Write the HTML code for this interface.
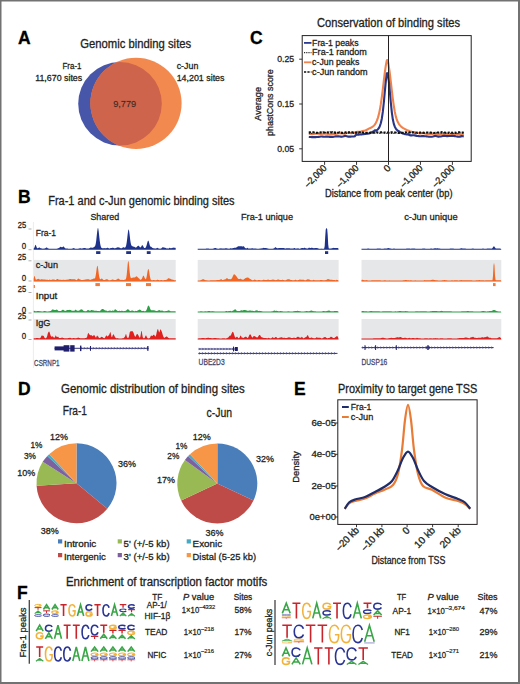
<!DOCTYPE html>
<html><head><meta charset="utf-8"><style>
html,body{margin:0;padding:0;background:#fff;}
svg{display:block;font-family:"Liberation Sans",sans-serif;}
</style></head><body>
<svg width="520" height="684" viewBox="0 0 520 684">
<rect width="520" height="684" fill="#fff"/>
<rect x="0.75" y="0.75" width="518.5" height="682.5" fill="none" stroke="#727272" stroke-width="1.5"/>
<rect x="518" y="0" width="2" height="684" fill="#727272"/>
<rect x="0" y="682" width="520" height="2" fill="#727272"/>
<text x="18" y="44.0" font-size="17.5" font-weight="bold" fill="#000" stroke="#000" stroke-width="0.30">A</text>
<text x="80.2" y="48.3" font-size="11.87" textLength="111" lengthAdjust="spacingAndGlyphs" fill="#231f20" stroke="#231f20" stroke-width="0.30">Genomic binding sites</text>
<text x="81.5" y="69.4" font-size="9.45" text-anchor="end" textLength="19" lengthAdjust="spacingAndGlyphs" fill="#231f20" stroke="#231f20" stroke-width="0.30">Fra-1</text>
<text x="82.2" y="81.2" font-size="9.45" text-anchor="end" textLength="47" lengthAdjust="spacingAndGlyphs" fill="#231f20" stroke="#231f20" stroke-width="0.30">11,670 sites</text>
<text x="176.7" y="69.4" font-size="9.45" textLength="21.6" lengthAdjust="spacingAndGlyphs" fill="#231f20" stroke="#231f20" stroke-width="0.30">c-Jun</text>
<text x="176.7" y="81.2" font-size="9.45" textLength="47.8" lengthAdjust="spacingAndGlyphs" fill="#231f20" stroke="#231f20" stroke-width="0.30">14,201 sites</text>
<defs><clipPath id="cpO"><circle cx="136" cy="103.3" r="45.6"/></clipPath></defs>
<circle cx="120" cy="103.8" r="41.8" fill="#4856aa"/>
<circle cx="136" cy="103.3" r="45.6" fill="#f28a50"/>
<circle cx="120" cy="103.8" r="41.8" fill="#cd644b" clip-path="url(#cpO)"/>
<text x="124.7" y="107" font-size="9.97" text-anchor="middle" textLength="23" lengthAdjust="spacingAndGlyphs" fill="#3b2a25" stroke="#3b2a25" stroke-width="0.30" stroke-opacity="0.4">9,779</text>
<text x="250" y="43.9" font-size="17.5" font-weight="bold" fill="#000" stroke="#000" stroke-width="0.30">C</text>
<text x="317" y="26.8" font-size="11.87" textLength="143" lengthAdjust="spacingAndGlyphs" fill="#231f20" stroke="#231f20" stroke-width="0.30">Conservation of binding sites</text>
<g transform="translate(261.2,103.9) rotate(-90)">
<text x="0" y="0" font-size="9.45" text-anchor="middle" textLength="33.8" lengthAdjust="spacingAndGlyphs" fill="#231f20" stroke="#231f20" stroke-width="0.30">Average</text>
</g>
<g transform="translate(272.6,102.6) rotate(-90)">
<text x="0" y="0" font-size="9.45" text-anchor="middle" textLength="66.7" lengthAdjust="spacingAndGlyphs" fill="#231f20" stroke="#231f20" stroke-width="0.30">phastCons score</text>
</g>
<line x1="299.2" y1="59.2" x2="302.2" y2="59.2" stroke="#231f20" stroke-width="0.9"/>
<text x="294.2" y="62.2" font-size="9.03" text-anchor="end" textLength="16.9" lengthAdjust="spacingAndGlyphs" fill="#231f20" stroke="#231f20" stroke-width="0.30">0.25</text>
<line x1="299.2" y1="104.00000000000001" x2="302.2" y2="104.00000000000001" stroke="#231f20" stroke-width="0.9"/>
<text x="294.2" y="107.00000000000001" font-size="9.03" text-anchor="end" textLength="16.9" lengthAdjust="spacingAndGlyphs" fill="#231f20" stroke="#231f20" stroke-width="0.30">0.15</text>
<line x1="299.2" y1="148.8" x2="302.2" y2="148.8" stroke="#231f20" stroke-width="0.9"/>
<text x="294.2" y="151.8" font-size="9.03" text-anchor="end" textLength="16.9" lengthAdjust="spacingAndGlyphs" fill="#231f20" stroke="#231f20" stroke-width="0.30">0.05</text>
<line x1="324.6" y1="161.4" x2="324.6" y2="164.9" stroke="#231f20" stroke-width="0.9"/>
<g transform="translate(327.40000000000003,168.6) rotate(-45)">
<text x="0" y="0" font-size="9.66" text-anchor="end" textLength="27.5" lengthAdjust="spacingAndGlyphs" fill="#231f20" stroke="#231f20" stroke-width="0.30">–2,000</text>
</g>
<line x1="356.55" y1="161.4" x2="356.55" y2="164.9" stroke="#231f20" stroke-width="0.9"/>
<g transform="translate(359.35,168.6) rotate(-45)">
<text x="0" y="0" font-size="9.66" text-anchor="end" textLength="27.5" lengthAdjust="spacingAndGlyphs" fill="#231f20" stroke="#231f20" stroke-width="0.30">–1,000</text>
</g>
<line x1="388.5" y1="161.4" x2="388.5" y2="164.9" stroke="#231f20" stroke-width="0.9"/>
<g transform="translate(391.3,168.6) rotate(-45)">
<text x="0" y="0" font-size="9.66" text-anchor="end" textLength="5.5" lengthAdjust="spacingAndGlyphs" fill="#231f20" stroke="#231f20" stroke-width="0.30">0</text>
</g>
<line x1="420.45" y1="161.4" x2="420.45" y2="164.9" stroke="#231f20" stroke-width="0.9"/>
<g transform="translate(423.25,168.6) rotate(-45)">
<text x="0" y="0" font-size="9.66" text-anchor="end" textLength="27.5" lengthAdjust="spacingAndGlyphs" fill="#231f20" stroke="#231f20" stroke-width="0.30">–1,000</text>
</g>
<line x1="452.4" y1="161.4" x2="452.4" y2="164.9" stroke="#231f20" stroke-width="0.9"/>
<g transform="translate(455.2,168.6) rotate(-45)">
<text x="0" y="0" font-size="9.66" text-anchor="end" textLength="27.5" lengthAdjust="spacingAndGlyphs" fill="#231f20" stroke="#231f20" stroke-width="0.30">–2,000</text>
</g>
<text x="325" y="197" font-size="10.08" textLength="127.5" lengthAdjust="spacingAndGlyphs" fill="#231f20" stroke="#231f20" stroke-width="0.30">Distance from peak center (bp)</text>
<defs><clipPath id="cpC"><rect x="302.2" y="35.6" width="169.0" height="125.80000000000001"/></clipPath></defs>
<g clip-path="url(#cpC)">
<path d="M308.8,133.75 L309.8,133.87 L310.8,134.02 L311.8,134.17 L312.8,134.08 L313.8,133.92 L314.8,133.77 L315.8,133.73 L316.8,133.72 L317.8,133.70 L318.8,133.80 L319.8,133.93 L320.8,134.06 L321.8,133.94 L322.8,133.76 L323.8,133.58 L324.8,133.57 L325.8,133.60 L326.8,133.63 L327.8,133.86 L328.8,134.13 L329.8,134.40 L330.8,134.30 L331.8,134.12 L332.8,133.93 L333.8,133.89 L334.8,133.89 L335.8,133.88 L336.8,133.69 L337.8,133.46 L338.8,133.22 L339.8,133.28 L340.8,133.40 L341.8,133.53 L342.8,133.57 L343.8,133.59 L344.8,133.61 L345.8,133.39 L346.8,133.10 L347.8,132.81 L348.8,132.88 L349.8,133.04 L350.8,133.19 L351.8,133.14 L352.8,133.04 L353.8,132.93 L354.8,132.62 L355.8,132.24 L356.8,131.86 L357.8,131.83 L358.8,131.87 L359.8,131.89 L360.8,131.66 L361.8,131.35 L362.8,131.02 L363.8,130.78 L364.8,130.54 L365.8,130.27 L366.8,129.79 L367.8,129.23 L368.8,128.62 L369.8,128.19 L370.8,127.75 L371.8,127.24 L372.8,126.54 L373.8,125.68 L374.8,124.62 L375.8,123.01 L376.8,120.89 L377.8,118.10 L378.8,114.63 L379.8,110.07 L380.8,104.20 L381.8,97.23 L382.8,89.28 L383.8,80.87 L384.8,72.65 L385.8,65.56 L386.8,60.36 L387.8,60.14 L388.8,66.35 L389.8,73.26 L390.8,81.62 L391.8,90.36 L392.8,98.62 L393.8,105.84 L394.8,111.76 L395.8,116.38 L396.8,119.71 L397.8,122.09 L398.8,123.80 L399.8,125.15 L400.8,126.22 L401.8,127.09 L402.8,127.80 L403.8,128.41 L404.8,128.95 L405.8,129.46 L406.8,129.94 L407.8,130.37 L408.8,130.81 L409.8,131.24 L410.8,131.63 L411.8,131.82 L412.8,131.95 L413.8,132.06 L414.8,132.26 L415.8,132.48 L416.8,132.67 L417.8,132.95 L418.8,133.25 L419.8,133.53 L420.8,133.43 L421.8,133.24 L422.8,133.03 L423.8,133.22 L424.8,133.52 L425.8,133.80 L426.8,133.96 L427.8,134.08 L428.8,134.19 L429.8,134.12 L430.8,133.99 L431.8,133.85 L432.8,133.83 L433.8,133.82 L434.8,133.81 L435.8,134.02 L436.8,134.27 L437.8,134.53 L438.8,134.41 L439.8,134.20 L440.8,133.99 L441.8,133.94 L442.8,133.93 L443.8,133.92 L444.8,134.01 L445.8,134.12 L446.8,134.22 L447.8,134.34 L448.8,134.45 L449.8,134.56 L450.8,134.39 L451.8,134.16 L452.8,133.93 L453.8,133.95 L454.8,134.05 L455.8,134.14 L456.8,134.16 L457.8,134.17 L458.8,134.18 L459.8,134.34 L460.8,134.54 L461.8,134.74 L462.8,134.66 L463.8,134.50" fill="none" stroke="#f0834d" stroke-width="2.1" stroke-linejoin="round"/>
<path d="M308.8,136.94 L309.8,137.02 L310.8,137.07 L311.8,137.13 L312.8,137.13 L313.8,137.13 L314.8,137.12 L315.8,137.08 L316.8,137.03 L317.8,136.99 L318.8,136.84 L319.8,136.67 L320.8,136.50 L321.8,136.55 L322.8,136.65 L323.8,136.75 L324.8,136.71 L325.8,136.62 L326.8,136.53 L327.8,136.61 L328.8,136.74 L329.8,136.86 L330.8,136.88 L331.8,136.88 L332.8,136.88 L333.8,136.74 L334.8,136.57 L335.8,136.40 L336.8,136.36 L337.8,136.35 L338.8,136.33 L339.8,136.48 L340.8,136.65 L341.8,136.83 L342.8,136.59 L343.8,136.25 L344.8,135.91 L345.8,136.06 L346.8,136.32 L347.8,136.59 L348.8,136.63 L349.8,136.61 L350.8,136.60 L351.8,136.57 L352.8,136.54 L353.8,136.50 L354.8,136.26 L355.8,134.97 L356.8,134.67 L357.8,134.60 L358.8,134.58 L359.8,134.56 L360.8,134.48 L361.8,134.38 L362.8,134.27 L363.8,134.15 L364.8,134.02 L365.8,133.87 L366.8,133.79 L367.8,133.70 L368.8,133.58 L369.8,133.23 L370.8,132.78 L371.8,132.29 L372.8,131.70 L373.8,131.05 L374.8,130.31 L375.8,130.79 L376.8,130.23 L377.8,129.49 L378.8,128.16 L379.8,126.20 L380.8,123.22 L381.8,118.73 L382.8,111.96 L383.8,102.74 L384.8,91.88 L385.8,81.30 L386.8,73.37 L387.8,73.18 L388.8,80.93 L389.8,91.33 L390.8,102.48 L391.8,112.12 L392.8,119.29 L393.8,123.88 L394.8,126.72 L395.8,128.54 L396.8,129.78 L397.8,130.72 L398.8,131.23 L399.8,131.91 L400.8,132.50 L401.8,133.02 L402.8,133.45 L403.8,133.80 L404.8,134.11 L405.8,134.30 L406.8,134.44 L407.8,134.55 L408.8,134.83 L409.8,135.12 L410.8,135.40 L411.8,135.39 L412.8,135.30 L413.8,135.19 L414.8,135.38 L415.8,135.63 L416.8,135.88 L417.8,136.01 L418.8,136.11 L419.8,136.21 L420.8,136.19 L421.8,136.14 L422.8,136.08 L423.8,136.13 L424.8,136.20 L425.8,136.26 L426.8,136.41 L427.8,136.58 L428.8,136.75 L429.8,136.77 L430.8,136.75 L431.8,136.73 L432.8,136.49 L433.8,136.19 L434.8,135.89 L435.8,136.05 L436.8,136.31 L437.8,136.58 L438.8,136.58 L439.8,136.51 L440.8,136.45 L441.8,136.25 L442.8,136.03 L443.8,135.80 L444.8,135.85 L445.8,135.98 L446.8,136.10 L447.8,136.09 L448.8,136.04 L449.8,135.99 L450.8,135.93 L451.8,135.87 L452.8,135.80 L453.8,135.94 L454.8,136.12 L455.8,136.31 L456.8,136.47 L457.8,136.63 L458.8,136.78 L459.8,136.62 L460.8,136.38 L461.8,136.14 L462.8,136.26 L463.8,136.48" fill="none" stroke="#2b3585" stroke-width="2.1" stroke-linejoin="round"/>
<path d="M308.8,132.95 L309.8,133.23 L310.8,133.31 L311.8,133.33 L312.8,133.04 L313.8,132.67 L314.8,132.92 L315.8,133.33 L316.8,133.26 L317.8,133.07 L318.8,132.98 L319.8,132.91 L320.8,132.00 L321.8,131.87 L322.8,131.95 L323.8,132.08 L324.8,132.32 L325.8,132.58 L326.8,132.38 L327.8,132.07 L328.8,131.95 L329.8,131.88 L330.8,131.87 L331.8,131.88 L332.8,131.87 L333.8,131.87 L334.8,131.95 L335.8,132.05 L336.8,132.27 L337.8,132.52 L338.8,132.27 L339.8,131.89 L340.8,132.66 L341.8,132.71 L342.8,132.99 L343.8,133.33 L344.8,133.42 L345.8,133.44 L346.8,133.44 L347.8,133.43 L348.8,133.17 L349.8,132.84 L350.8,132.81 L351.8,132.86 L352.8,133.08 L353.8,133.35 L354.8,133.24 L355.8,133.03 L356.8,133.07 L357.8,133.16 L358.8,133.04 L359.8,132.87 L360.8,132.73 L361.8,132.60 L362.8,132.69 L363.8,132.83 L364.8,133.01 L365.8,133.19 L366.8,133.24 L367.8,133.25 L368.8,133.18 L369.8,133.08 L370.8,133.02 L371.8,132.98 L372.8,132.99 L373.8,133.03 L374.8,133.00 L375.8,132.96 L376.8,132.98 L377.8,133.02 L378.8,133.14 L379.8,133.27 L380.8,133.07 L381.8,132.79 L382.8,132.87 L383.8,133.05 L384.8,133.21 L385.8,133.36 L386.8,133.36 L387.8,133.32 L388.8,133.07 L389.8,132.77 L390.8,132.99 L391.8,133.35 L392.8,133.37 L393.8,133.32 L394.8,133.06 L395.8,132.76 L396.8,132.74 L397.8,132.78 L398.8,132.77 L399.8,132.74 L400.8,132.68 L401.8,132.61 L402.8,132.93 L403.8,133.35 L404.8,133.23 L405.8,132.97 L406.8,133.09 L407.8,133.29 L408.8,133.06 L409.8,132.72 L410.8,132.62 L411.8,132.57 L412.8,132.87 L413.8,133.26 L414.8,133.31 L415.8,133.27 L416.8,133.34 L417.8,133.42 L418.8,133.33 L419.8,133.19 L420.8,133.11 L421.8,133.04 L422.8,133.11 L423.8,133.22 L424.8,133.00 L425.8,132.69 L426.8,132.79 L427.8,133.00 L428.8,133.00 L429.8,132.96 L430.8,132.84 L431.8,132.71 L432.8,132.85 L433.8,133.05 L434.8,132.99 L435.8,132.87 L436.8,132.91 L437.8,132.99 L438.8,132.96 L439.8,132.90 L440.8,132.87 L441.8,132.84 L442.8,132.85 L443.8,132.87 L444.8,132.96 L445.8,133.07 L446.8,133.23 L447.8,133.40 L448.8,133.42 L449.8,133.40 L450.8,133.37 L451.8,133.33 L452.8,133.32 L453.8,133.30 L454.8,133.10 L455.8,132.86 L456.8,133.06 L457.8,133.37 L458.8,133.17 L459.8,132.86 L460.8,132.74 L461.8,132.67 L462.8,132.80 L463.8,132.97" fill="none" stroke="#2a2a2a" stroke-width="1.2" stroke-dasharray="1.2,1.2"/>
<path d="M308.8,132.54 L309.8,132.37 L310.8,132.23 L311.8,132.10 L312.8,132.19 L313.8,132.33 L314.8,132.51 L315.8,132.69 L316.8,132.74 L317.8,132.75 L318.8,132.68 L319.8,132.58 L320.8,132.52 L321.8,132.48 L322.8,132.49 L323.8,132.53 L324.8,132.50 L325.8,132.46 L326.8,132.48 L327.8,132.52 L328.8,132.64 L329.8,132.77 L330.8,132.57 L331.8,132.29 L332.8,132.37 L333.8,132.55 L334.8,132.71 L335.8,132.86 L336.8,132.86 L337.8,132.82 L338.8,132.57 L339.8,132.27 L340.8,132.49 L341.8,132.85 L342.8,132.87 L343.8,132.82 L344.8,132.56 L345.8,132.26 L346.8,132.24 L347.8,132.28 L348.8,132.27 L349.8,132.24 L350.8,132.18 L351.8,132.11 L352.8,132.43 L353.8,132.85 L354.8,132.73 L355.8,132.47 L356.8,132.59 L357.8,132.79 L358.8,132.56 L359.8,132.22 L360.8,132.12 L361.8,132.07 L362.8,132.37 L363.8,132.76 L364.8,132.81 L365.8,132.77 L366.8,132.84 L367.8,132.92 L368.8,132.83 L369.8,132.69 L370.8,132.61 L371.8,132.54 L372.8,132.61 L373.8,132.72 L374.8,132.50 L375.8,132.19 L376.8,132.29 L377.8,132.50 L378.8,132.50 L379.8,132.46 L380.8,132.34 L381.8,132.21 L382.8,132.35 L383.8,132.55 L384.8,132.49 L385.8,132.37 L386.8,132.41 L387.8,132.49 L388.8,132.46 L389.8,132.40 L390.8,132.37 L391.8,132.34 L392.8,132.35 L393.8,132.37 L394.8,132.46 L395.8,132.57 L396.8,132.73 L397.8,132.90 L398.8,132.92 L399.8,132.90 L400.8,132.87 L401.8,132.83 L402.8,132.82 L403.8,132.80 L404.8,132.60 L405.8,132.36 L406.8,132.56 L407.8,132.87 L408.8,132.67 L409.8,132.36 L410.8,132.24 L411.8,132.17 L412.8,132.30 L413.8,132.47 L414.8,132.58 L415.8,132.69 L416.8,132.57 L417.8,132.39 L418.8,132.47 L419.8,132.60 L420.8,132.50 L421.8,132.34 L422.8,132.55 L423.8,132.86 L424.8,132.74 L425.8,132.50 L426.8,132.47 L427.8,132.48 L428.8,132.50 L429.8,132.52 L430.8,132.65 L431.8,132.81 L432.8,132.88 L433.8,132.93 L434.8,132.77 L435.8,132.57 L436.8,132.49 L437.8,132.46 L438.8,132.51 L439.8,132.59 L440.8,132.41 L441.8,132.16 L442.8,132.24 L443.8,132.40 L444.8,132.58 L445.8,132.77 L446.8,132.79 L447.8,132.76 L448.8,132.49 L449.8,132.17 L450.8,132.39 L451.8,132.75 L452.8,132.65 L453.8,132.44 L454.8,132.61 L455.8,132.88 L456.8,132.71 L457.8,132.44 L458.8,132.33 L459.8,132.26 L460.8,132.36 L461.8,132.51 L462.8,132.66 L463.8,132.82" fill="none" stroke="#111" stroke-width="2.1" stroke-dasharray="2.2,1.4"/>
</g>
<rect x="302.2" y="35.6" width="169.0" height="125.80000000000001" fill="none" stroke="#231f20" stroke-width="1"/>
<line x1="388.5" y1="35.6" x2="388.5" y2="161.4" stroke="#231f20" stroke-width="1"/>
<line x1="304" y1="42.9" x2="311.5" y2="42.9" stroke="#2b3990" stroke-width="1.8"/>
<text x="312.1" y="45.5" font-size="9.66" textLength="46.5" lengthAdjust="spacingAndGlyphs" fill="#231f20" stroke="#231f20" stroke-width="0.30">Fra-1 peaks</text>
<line x1="304" y1="52.6" x2="311.5" y2="52.6" stroke="#2a2a2a" stroke-width="1.2" stroke-dasharray="1.2,1"/>
<text x="312.1" y="55.2" font-size="9.66" textLength="54.8" lengthAdjust="spacingAndGlyphs" fill="#231f20" stroke="#231f20" stroke-width="0.30">Fra-1 random</text>
<line x1="304" y1="62.300000000000004" x2="311.5" y2="62.300000000000004" stroke="#f0834d" stroke-width="1.8"/>
<text x="312.1" y="64.9" font-size="9.66" textLength="47.2" lengthAdjust="spacingAndGlyphs" fill="#231f20" stroke="#231f20" stroke-width="0.30">c-Jun peaks</text>
<line x1="304" y1="72.0" x2="311.5" y2="72.0" stroke="#111" stroke-width="1.6" stroke-dasharray="2.2,1.2"/>
<text x="312.1" y="74.6" font-size="9.66" textLength="55.5" lengthAdjust="spacingAndGlyphs" fill="#231f20" stroke="#231f20" stroke-width="0.30">c-Jun random</text>
<text x="18" y="203.1" font-size="17.5" font-weight="bold" fill="#000" stroke="#000" stroke-width="0.30">B</text>
<text x="48.2" y="204.6" font-size="11.87" textLength="186.4" lengthAdjust="spacingAndGlyphs" fill="#231f20" stroke="#231f20" stroke-width="0.30">Fra-1 and c-Jun genomic binding sites</text>
<text x="104.8" y="219.6" font-size="9.97" text-anchor="middle" textLength="28.8" lengthAdjust="spacingAndGlyphs" fill="#231f20" stroke="#231f20" stroke-width="0.30">Shared</text>
<text x="267" y="219.6" font-size="9.97" text-anchor="middle" textLength="52" lengthAdjust="spacingAndGlyphs" fill="#231f20" stroke="#231f20" stroke-width="0.30">Fra-1 unique</text>
<text x="430.9" y="219.6" font-size="9.97" text-anchor="middle" textLength="53.5" lengthAdjust="spacingAndGlyphs" fill="#231f20" stroke="#231f20" stroke-width="0.30">c-Jun unique</text>
<rect x="33.7" y="259.9" width="142.0" height="21.900000000000034" fill="#e6e7e8"/>
<rect x="197.7" y="259.9" width="140.90000000000003" height="21.900000000000034" fill="#e6e7e8"/>
<rect x="361.5" y="259.9" width="139.8" height="21.900000000000034" fill="#e6e7e8"/>
<rect x="33.7" y="319.0" width="142.0" height="20.80000000000001" fill="#e6e7e8"/>
<rect x="197.7" y="319.0" width="140.90000000000003" height="20.80000000000001" fill="#e6e7e8"/>
<rect x="361.5" y="319.0" width="139.8" height="20.80000000000001" fill="#e6e7e8"/>
<text x="26.2" y="228.4" font-size="8.4" text-anchor="end" textLength="8.4" lengthAdjust="spacingAndGlyphs" fill="#231f20" stroke="#231f20" stroke-width="0.28">25</text>
<text x="26.2" y="249.2" font-size="8.4" text-anchor="end" textLength="4.4" lengthAdjust="spacingAndGlyphs" fill="#231f20" stroke="#231f20" stroke-width="0.28">0</text>
<line x1="28.5" y1="229" x2="31.5" y2="229" stroke="#777" stroke-width="0.6"/>
<line x1="28.5" y1="249.7" x2="31.5" y2="249.7" stroke="#777" stroke-width="0.6"/>
<text x="35.7" y="235.9" font-size="9.97" textLength="20.3" lengthAdjust="spacingAndGlyphs" fill="#231f20" stroke="#231f20" stroke-width="0.30">Fra-1</text>
<text x="26.2" y="260.2" font-size="8.4" text-anchor="end" textLength="8.4" lengthAdjust="spacingAndGlyphs" fill="#231f20" stroke="#231f20" stroke-width="0.28">25</text>
<text x="26.2" y="280.5" font-size="8.4" text-anchor="end" textLength="4.4" lengthAdjust="spacingAndGlyphs" fill="#231f20" stroke="#231f20" stroke-width="0.28">0</text>
<line x1="28.5" y1="260.8" x2="31.5" y2="260.8" stroke="#777" stroke-width="0.6"/>
<line x1="28.5" y1="281" x2="31.5" y2="281" stroke="#777" stroke-width="0.6"/>
<text x="35.7" y="268.2" font-size="9.97" textLength="22.3" lengthAdjust="spacingAndGlyphs" fill="#231f20" stroke="#231f20" stroke-width="0.30">c-Jun</text>
<text x="26.2" y="291.9" font-size="8.4" text-anchor="end" textLength="8.4" lengthAdjust="spacingAndGlyphs" fill="#231f20" stroke="#231f20" stroke-width="0.28">25</text>
<text x="26.2" y="312.5" font-size="8.4" text-anchor="end" textLength="4.4" lengthAdjust="spacingAndGlyphs" fill="#231f20" stroke="#231f20" stroke-width="0.28">0</text>
<line x1="28.5" y1="292.5" x2="31.5" y2="292.5" stroke="#777" stroke-width="0.6"/>
<line x1="28.5" y1="313" x2="31.5" y2="313" stroke="#777" stroke-width="0.6"/>
<text x="35.7" y="299.4" font-size="9.97" textLength="21.6" lengthAdjust="spacingAndGlyphs" fill="#231f20" stroke="#231f20" stroke-width="0.30">Input</text>
<text x="26.2" y="319.4" font-size="8.4" text-anchor="end" textLength="8.4" lengthAdjust="spacingAndGlyphs" fill="#231f20" stroke="#231f20" stroke-width="0.28">25</text>
<text x="26.2" y="339.0" font-size="8.4" text-anchor="end" textLength="4.4" lengthAdjust="spacingAndGlyphs" fill="#231f20" stroke="#231f20" stroke-width="0.28">0</text>
<line x1="28.5" y1="320" x2="31.5" y2="320" stroke="#777" stroke-width="0.6"/>
<line x1="28.5" y1="339.5" x2="31.5" y2="339.5" stroke="#777" stroke-width="0.6"/>
<text x="35.7" y="326.4" font-size="9.97" textLength="14.8" lengthAdjust="spacingAndGlyphs" fill="#231f20" stroke="#231f20" stroke-width="0.30">IgG</text>
<line x1="33.4" y1="222" x2="33.4" y2="368" stroke="#f3d6d6" stroke-width="0.6"/>
<path d="M33.7,249.7 L33.7,248.56 L34.2,248.03 L34.7,246.78 L35.2,245.24 L35.7,244.83 L36.2,246.09 L36.7,247.60 L37.2,248.28 L37.7,248.35 L38.2,248.11 L38.7,247.71 L39.2,247.45 L39.7,247.58 L40.2,247.90 L40.7,248.17 L41.2,248.35 L41.7,248.48 L42.2,248.58 L42.7,248.63 L43.2,248.65 L43.7,248.62 L44.2,248.55 L44.7,248.43 L45.2,248.21 L45.7,247.90 L46.2,247.62 L46.7,247.58 L47.2,247.84 L47.7,248.16 L48.2,248.40 L48.7,248.54 L49.2,248.63 L49.7,248.67 L50.2,248.69 L50.7,248.70 L51.2,248.70 L51.7,248.70 L52.2,248.70 L52.7,248.70 L53.2,248.70 L53.7,248.70 L54.2,248.70 L54.7,248.70 L55.2,248.70 L55.7,248.70 L56.2,248.69 L56.7,248.68 L57.2,248.62 L57.7,248.48 L58.2,248.24 L58.7,247.95 L59.2,247.69 L59.7,247.44 L60.2,247.06 L60.7,246.74 L61.2,246.93 L61.7,247.24 L62.2,247.28 L62.7,246.95 L63.2,246.42 L63.7,246.49 L64.2,247.21 L64.7,247.81 L65.2,248.18 L65.7,248.39 L66.2,248.47 L66.7,248.47 L67.2,248.51 L67.7,248.59 L68.2,248.66 L68.7,248.69 L69.2,248.70 L69.7,248.70 L70.2,248.70 L70.7,248.70 L71.2,248.70 L71.7,248.69 L72.2,248.62 L72.7,248.42 L73.2,248.14 L73.7,248.10 L74.2,248.34 L74.7,248.56 L75.2,248.64 L75.7,248.67 L76.2,248.68 L76.7,248.69 L77.2,248.69 L77.7,248.69 L78.2,248.66 L78.7,248.56 L79.2,248.40 L79.7,248.30 L80.2,248.27 L80.7,248.35 L81.2,248.48 L81.7,248.49 L82.2,248.41 L82.7,248.29 L83.2,248.15 L83.7,248.02 L84.2,247.93 L84.7,247.95 L85.2,248.10 L85.7,248.31 L86.2,248.49 L86.7,248.54 L87.2,248.49 L87.7,248.54 L88.2,248.60 L88.7,248.52 L89.2,248.34 L89.7,248.09 L90.2,247.79 L90.7,247.53 L91.2,247.56 L91.7,247.76 L92.2,247.80 L92.7,247.67 L93.2,247.47 L93.7,247.24 L94.2,246.98 L94.7,246.57 L95.2,245.74 L95.7,243.97 L96.2,240.66 L96.7,236.01 L97.2,231.40 L97.7,228.30 L98.2,228.15 L98.7,231.17 L99.2,235.92 L99.7,240.58 L100.2,244.11 L100.7,246.35 L101.2,247.56 L101.7,248.08 L102.2,248.25 L102.7,248.26 L103.2,248.21 L103.7,248.15 L104.2,248.11 L104.7,248.14 L105.2,248.25 L105.7,248.31 L106.2,248.24 L106.7,248.03 L107.2,247.85 L107.7,247.83 L108.2,248.01 L108.7,248.27 L109.2,248.47 L109.7,248.52 L110.2,248.31 L110.7,248.06 L111.2,248.07 L111.7,248.02 L112.2,247.85 L112.7,247.76 L113.2,247.82 L113.7,248.00 L114.2,248.17 L114.7,248.25 L115.2,248.21 L115.7,248.06 L116.2,247.85 L116.7,247.67 L117.2,247.50 L117.7,247.30 L118.2,247.35 L118.7,247.51 L119.2,247.54 L119.7,247.69 L120.2,247.98 L120.7,248.18 L121.2,248.26 L121.7,248.18 L122.2,247.88 L122.7,247.45 L123.2,247.23 L123.7,247.36 L124.2,247.59 L124.7,247.67 L125.2,247.45 L125.7,246.75 L126.2,245.22 L126.7,242.51 L127.2,238.58 L127.7,234.01 L128.2,230.32 L128.7,229.28 L129.2,231.39 L129.7,235.49 L130.2,239.75 L130.7,242.96 L131.2,244.89 L131.7,245.80 L132.2,246.15 L132.7,246.32 L133.2,246.48 L133.7,246.65 L134.2,246.84 L134.7,247.12 L135.2,247.39 L135.7,247.53 L136.2,247.47 L136.7,247.12 L137.2,246.51 L137.7,245.89 L138.2,245.64 L138.7,245.85 L139.2,246.32 L139.7,247.00 L140.2,247.47 L140.7,247.36 L141.2,246.79 L141.7,245.76 L142.2,245.10 L142.7,245.40 L143.2,246.37 L143.7,247.37 L144.2,247.95 L144.7,248.12 L145.2,248.00 L145.7,247.56 L146.2,246.61 L146.7,245.01 L147.2,242.99 L147.7,241.20 L148.2,240.49 L148.7,241.27 L149.2,243.12 L149.7,245.09 L150.2,246.34 L150.7,246.66 L151.2,246.77 L151.7,247.17 L152.2,247.63 L152.7,248.03 L153.2,248.26 L153.7,248.32 L154.2,248.34 L154.7,248.41 L155.2,248.52 L155.7,248.57 L156.2,248.44 L156.7,248.10 L157.2,247.83 L157.7,247.90 L158.2,248.17 L158.7,248.42 L159.2,248.59 L159.7,248.66 L160.2,248.67 L160.7,248.60 L161.2,248.40 L161.7,248.03 L162.2,247.54 L162.7,247.21 L163.2,247.22 L163.7,247.41 L164.2,247.57 L164.7,247.69 L165.2,247.84 L165.7,248.12 L166.2,248.37 L166.7,248.38 L167.2,248.28 L167.7,248.40 L168.2,248.51 L168.7,248.40 L169.2,248.05 L169.7,247.71 L170.2,247.97 L170.7,248.18 L171.2,248.13 L171.7,248.06 L172.2,247.94 L172.7,247.65 L173.2,247.61 L173.7,247.77 L174.2,247.76 L174.7,247.72 L175.2,247.79 L175.7,247.94 L175.7,249.7 Z" fill="#1e328c" stroke="none"/>
<path d="M33.7,281.4 L33.7,278.59 L34.2,276.29 L34.7,275.93 L35.2,278.04 L35.7,279.60 L36.2,279.86 L36.7,279.60 L37.2,279.22 L37.7,278.93 L38.2,278.84 L38.7,278.96 L39.2,279.20 L39.7,279.47 L40.2,279.65 L40.7,279.58 L41.2,279.32 L41.7,279.17 L42.2,279.24 L42.7,279.40 L43.2,279.51 L43.7,279.48 L44.2,279.44 L44.7,279.49 L45.2,279.61 L45.7,279.66 L46.2,279.64 L46.7,279.63 L47.2,279.70 L47.7,279.84 L48.2,279.98 L48.7,280.02 L49.2,279.80 L49.7,279.51 L50.2,279.64 L50.7,279.97 L51.2,279.96 L51.7,279.69 L52.2,279.43 L52.7,279.38 L53.2,279.47 L53.7,279.52 L54.2,279.50 L54.7,279.67 L55.2,279.96 L55.7,280.00 L56.2,279.73 L56.7,279.34 L57.2,279.04 L57.7,279.04 L58.2,279.31 L58.7,279.63 L59.2,279.82 L59.7,279.85 L60.2,279.82 L60.7,279.82 L61.2,279.86 L61.7,279.91 L62.2,279.89 L62.7,279.81 L63.2,279.72 L63.7,279.74 L64.2,279.85 L64.7,279.94 L65.2,279.94 L65.7,279.86 L66.2,279.73 L66.7,279.64 L67.2,279.62 L67.7,279.63 L68.2,279.59 L68.7,279.44 L69.2,279.19 L69.7,278.97 L70.2,278.92 L70.7,279.02 L71.2,279.15 L71.7,279.23 L72.2,279.23 L72.7,279.20 L73.2,279.23 L73.7,279.30 L74.2,279.32 L74.7,279.30 L75.2,279.44 L75.7,279.80 L76.2,280.11 L76.7,280.13 L77.2,279.74 L77.7,279.01 L78.2,278.55 L78.7,278.75 L79.2,279.13 L79.7,279.37 L80.2,279.57 L80.7,279.81 L81.2,280.03 L81.7,280.11 L82.2,280.05 L82.7,280.04 L83.2,279.88 L83.7,279.66 L84.2,279.67 L84.7,279.66 L85.2,279.53 L85.7,279.41 L86.2,279.38 L86.7,279.35 L87.2,279.24 L87.7,279.16 L88.2,279.14 L88.7,279.13 L89.2,279.41 L89.7,279.82 L90.2,279.98 L90.7,279.71 L91.2,279.36 L91.7,279.45 L92.2,279.35 L92.7,279.01 L93.2,278.68 L93.7,278.47 L94.2,278.54 L94.7,278.55 L95.2,277.72 L95.7,275.62 L96.2,272.24 L96.7,268.36 L97.2,265.81 L97.7,266.22 L98.2,269.35 L98.7,273.42 L99.2,276.70 L99.7,278.57 L100.2,279.23 L100.7,279.14 L101.2,278.73 L101.7,278.51 L102.2,278.75 L102.7,279.24 L103.2,279.65 L103.7,279.89 L104.2,280.00 L104.7,279.97 L105.2,279.78 L105.7,279.48 L106.2,279.24 L106.7,279.15 L107.2,279.19 L107.7,279.38 L108.2,279.79 L108.7,280.16 L109.2,280.28 L109.7,280.26 L110.2,280.18 L110.7,280.07 L111.2,279.92 L111.7,279.74 L112.2,279.60 L112.7,279.58 L113.2,279.68 L113.7,279.83 L114.2,279.97 L114.7,280.06 L115.2,280.08 L115.7,280.01 L116.2,279.85 L116.7,279.61 L117.2,279.25 L117.7,278.83 L118.2,278.62 L118.7,278.79 L119.2,279.16 L119.7,279.52 L120.2,279.79 L120.7,279.93 L121.2,279.89 L121.7,279.77 L122.2,279.84 L122.7,280.05 L123.2,280.12 L123.7,279.98 L124.2,279.80 L124.7,279.75 L125.2,279.70 L125.7,279.31 L126.2,277.95 L126.7,274.79 L127.2,269.57 L127.7,263.83 L128.2,260.63 L128.7,262.00 L129.2,266.89 L129.7,272.31 L130.2,276.01 L130.7,277.69 L131.2,278.13 L131.7,278.07 L132.2,277.84 L132.7,277.63 L133.2,277.52 L133.7,277.51 L134.2,277.54 L134.7,277.48 L135.2,277.21 L135.7,276.79 L136.2,276.39 L136.7,276.30 L137.2,276.64 L137.7,277.20 L138.2,277.77 L138.7,278.20 L139.2,278.52 L139.7,279.14 L140.2,279.67 L140.7,279.79 L141.2,279.59 L141.7,278.98 L142.2,277.91 L142.7,276.65 L143.2,275.77 L143.7,275.77 L144.2,276.66 L144.7,277.94 L145.2,278.97 L145.7,279.24 L146.2,278.40 L146.7,276.42 L147.2,273.56 L147.7,270.55 L148.2,268.86 L148.7,269.50 L149.2,272.09 L149.7,275.29 L150.2,277.86 L150.7,279.39 L151.2,280.07 L151.7,280.28 L152.2,280.28 L152.7,280.13 L153.2,279.95 L153.7,279.95 L154.2,280.07 L154.7,280.18 L155.2,280.28 L155.7,280.29 L156.2,280.13 L156.7,279.90 L157.2,279.82 L157.7,279.85 L158.2,279.91 L158.7,280.05 L159.2,280.20 L159.7,280.25 L160.2,280.16 L160.7,280.00 L161.2,279.92 L161.7,280.00 L162.2,280.15 L162.7,280.26 L163.2,280.26 L163.7,280.18 L164.2,280.09 L164.7,280.02 L165.2,279.97 L165.7,279.91 L166.2,279.87 L166.7,279.77 L167.2,279.42 L167.7,278.81 L168.2,278.32 L168.7,278.27 L169.2,278.39 L169.7,278.50 L170.2,278.67 L170.7,278.92 L171.2,279.18 L171.7,279.38 L172.2,279.54 L172.7,279.70 L173.2,279.84 L173.7,279.98 L174.2,280.20 L174.7,280.27 L175.2,280.08 L175.7,280.05 L175.7,281.4 Z" fill="#f26522" stroke="none"/>
<path d="M33.7,312.4 L33.7,310.83 L34.2,310.64 L34.7,310.95 L35.2,311.26 L35.7,311.32 L36.2,311.28 L36.7,311.20 L37.2,311.11 L37.7,311.04 L38.2,311.01 L38.7,311.04 L39.2,311.11 L39.7,311.20 L40.2,311.28 L40.7,311.33 L41.2,311.37 L41.7,311.39 L42.2,311.39 L42.7,311.38 L43.2,311.34 L43.7,311.24 L44.2,311.10 L44.7,311.04 L45.2,311.11 L45.7,311.24 L46.2,311.34 L46.7,311.39 L47.2,311.40 L47.7,311.39 L48.2,311.38 L48.7,311.34 L49.2,311.28 L49.7,311.18 L50.2,311.09 L50.7,310.98 L51.2,310.65 L51.7,309.90 L52.2,309.40 L52.7,309.45 L53.2,309.56 L53.7,309.70 L54.2,309.88 L54.7,310.04 L55.2,310.10 L55.7,310.02 L56.2,309.79 L56.7,309.52 L57.2,309.67 L57.7,310.30 L58.2,310.82 L58.7,311.05 L59.2,311.09 L59.7,311.00 L60.2,310.93 L60.7,310.89 L61.2,310.83 L61.7,310.61 L62.2,310.11 L62.7,309.71 L63.2,309.80 L63.7,310.06 L64.2,310.39 L64.7,310.80 L65.2,310.94 L65.7,310.76 L66.2,310.52 L66.7,310.25 L67.2,310.05 L67.7,310.03 L68.2,310.06 L68.7,310.06 L69.2,309.96 L69.7,309.87 L70.2,309.89 L70.7,310.08 L71.2,310.37 L71.7,310.65 L72.2,310.82 L72.7,310.87 L73.2,310.83 L73.7,310.77 L74.2,310.75 L74.7,310.56 L75.2,309.95 L75.7,309.60 L76.2,309.94 L76.7,310.41 L77.2,310.67 L77.7,310.75 L78.2,310.74 L78.7,310.71 L79.2,310.62 L79.7,310.37 L80.2,309.85 L80.7,309.54 L81.2,309.44 L81.7,309.26 L82.2,309.52 L82.7,310.12 L83.2,310.62 L83.7,310.90 L84.2,311.05 L84.7,311.17 L85.2,311.27 L85.7,311.30 L86.2,311.22 L86.7,310.92 L87.2,310.43 L87.7,310.10 L88.2,310.12 L88.7,310.35 L89.2,310.61 L89.7,310.76 L90.2,310.72 L90.7,310.51 L91.2,310.10 L91.7,310.00 L92.2,310.22 L92.7,310.22 L93.2,310.28 L93.7,310.59 L94.2,310.75 L94.7,310.71 L95.2,310.74 L95.7,310.76 L96.2,310.71 L96.7,310.72 L97.2,310.88 L97.7,311.00 L98.2,310.91 L98.7,310.96 L99.2,311.16 L99.7,311.12 L100.2,310.76 L100.7,310.21 L101.2,309.72 L101.7,309.35 L102.2,309.01 L102.7,308.90 L103.2,309.12 L103.7,309.45 L104.2,309.84 L104.7,310.28 L105.2,310.59 L105.7,310.60 L106.2,310.53 L106.7,310.80 L107.2,311.11 L107.7,311.16 L108.2,311.03 L108.7,310.84 L109.2,310.68 L109.7,310.58 L110.2,310.59 L110.7,310.73 L111.2,310.90 L111.7,310.88 L112.2,310.59 L112.7,310.39 L113.2,310.63 L113.7,310.75 L114.2,310.38 L114.7,309.60 L115.2,309.15 L115.7,309.55 L116.2,310.06 L116.7,310.34 L117.2,310.67 L117.7,311.00 L118.2,311.10 L118.7,310.90 L119.2,310.68 L119.7,310.76 L120.2,310.92 L120.7,310.89 L121.2,310.74 L121.7,310.69 L122.2,310.78 L122.7,310.96 L123.2,311.11 L123.7,311.16 L124.2,311.12 L124.7,311.04 L125.2,310.92 L125.7,310.73 L126.2,310.43 L126.7,310.03 L127.2,309.61 L127.7,309.33 L128.2,309.37 L128.7,309.76 L129.2,310.30 L129.7,310.76 L130.2,310.97 L130.7,310.96 L131.2,310.78 L131.7,310.56 L132.2,310.45 L132.7,310.54 L133.2,310.79 L133.7,311.06 L134.2,311.23 L134.7,311.19 L135.2,310.95 L135.7,310.87 L136.2,310.96 L136.7,310.89 L137.2,310.74 L137.7,310.53 L138.2,310.25 L138.7,309.96 L139.2,309.69 L139.7,309.55 L140.2,309.68 L140.7,310.09 L141.2,310.58 L141.7,310.93 L142.2,311.02 L142.7,310.91 L143.2,310.85 L143.7,310.99 L144.2,311.20 L144.7,311.31 L145.2,311.27 L145.7,311.03 L146.2,310.46 L146.7,309.41 L147.2,307.89 L147.7,306.39 L148.2,305.60 L148.7,305.75 L149.2,306.37 L149.7,307.36 L150.2,308.74 L150.7,309.83 L151.2,310.30 L151.7,310.37 L152.2,310.30 L152.7,310.25 L153.2,310.30 L153.7,310.35 L154.2,310.36 L154.7,310.43 L155.2,310.63 L155.7,310.86 L156.2,311.02 L156.7,311.04 L157.2,310.92 L157.7,310.70 L158.2,310.46 L158.7,310.21 L159.2,310.03 L159.7,310.14 L160.2,310.52 L160.7,310.74 L161.2,310.70 L161.7,310.60 L162.2,310.61 L162.7,310.73 L163.2,311.01 L163.7,311.27 L164.2,311.35 L164.7,311.31 L165.2,311.21 L165.7,311.08 L166.2,310.96 L166.7,310.91 L167.2,310.85 L167.7,310.68 L168.2,310.43 L168.7,310.37 L169.2,310.56 L169.7,310.81 L170.2,311.00 L170.7,311.14 L171.2,311.25 L171.7,311.33 L172.2,311.34 L172.7,311.30 L173.2,311.23 L173.7,311.20 L174.2,311.23 L174.7,311.30 L175.2,311.36 L175.7,311.39 L175.7,312.4 Z" fill="#2e9e48" stroke="none"/>
<path d="M33.7,339.4 L33.7,338.36 L34.2,338.32 L34.7,338.26 L35.2,338.19 L35.7,338.13 L36.2,338.09 L36.7,338.03 L37.2,337.92 L37.7,337.88 L38.2,338.06 L38.7,338.26 L39.2,338.31 L39.7,338.23 L40.2,337.97 L40.7,337.38 L41.2,336.34 L41.7,335.40 L42.2,335.38 L42.7,335.84 L43.2,335.83 L43.7,335.97 L44.2,336.98 L44.7,337.94 L45.2,338.26 L45.7,338.21 L46.2,337.92 L46.7,337.32 L47.2,335.95 L47.7,333.68 L48.2,332.44 L48.7,331.76 L49.2,331.47 L49.7,332.46 L50.2,334.17 L50.7,335.63 L51.2,336.52 L51.7,336.78 L52.2,336.48 L52.7,336.32 L53.2,336.85 L53.7,337.55 L54.2,337.83 L54.7,337.44 L55.2,336.38 L55.7,335.37 L56.2,335.95 L56.7,337.05 L57.2,336.97 L57.7,336.63 L58.2,336.81 L58.7,337.39 L59.2,337.88 L59.7,338.06 L60.2,338.02 L60.7,337.89 L61.2,337.77 L61.7,337.63 L62.2,337.54 L62.7,337.65 L63.2,337.89 L63.7,338.11 L64.2,338.25 L64.7,338.31 L65.2,338.33 L65.7,338.34 L66.2,338.35 L66.7,338.35 L67.2,338.31 L67.7,338.20 L68.2,338.06 L68.7,337.94 L69.2,337.88 L69.7,337.83 L70.2,337.85 L70.7,338.01 L71.2,338.13 L71.7,338.20 L72.2,338.24 L72.7,338.20 L73.2,338.08 L73.7,337.99 L74.2,338.03 L74.7,338.18 L75.2,338.30 L75.7,338.34 L76.2,338.27 L76.7,338.12 L77.2,337.89 L77.7,337.67 L78.2,337.57 L78.7,337.66 L79.2,337.88 L79.7,338.11 L80.2,338.27 L80.7,338.35 L81.2,338.34 L81.7,338.28 L82.2,338.28 L82.7,338.33 L83.2,338.33 L83.7,338.29 L84.2,338.24 L84.7,338.18 L85.2,338.07 L85.7,337.93 L86.2,337.87 L86.7,337.66 L87.2,336.51 L87.7,334.35 L88.2,332.98 L88.7,333.31 L89.2,334.14 L89.7,334.81 L90.2,335.22 L90.7,335.30 L91.2,335.22 L91.7,335.36 L92.2,335.84 L92.7,336.23 L93.2,335.88 L93.7,335.11 L94.2,334.99 L94.7,335.69 L95.2,336.67 L95.7,337.49 L96.2,337.48 L96.7,335.95 L97.2,335.41 L97.7,336.16 L98.2,336.45 L98.7,337.43 L99.2,338.12 L99.7,338.12 L100.2,337.84 L100.7,337.44 L101.2,337.06 L101.7,336.85 L102.2,336.92 L102.7,337.24 L103.2,337.65 L103.7,337.99 L104.2,338.16 L104.7,338.01 L105.2,337.37 L105.7,336.31 L106.2,335.48 L106.7,335.53 L107.2,336.14 L107.7,336.40 L108.2,335.99 L108.7,335.33 L109.2,334.68 L109.7,333.62 L110.2,332.01 L110.7,332.85 L111.2,335.89 L111.7,337.23 L112.2,336.81 L112.7,335.34 L113.2,334.17 L113.7,334.48 L114.2,335.53 L114.7,336.52 L115.2,337.34 L115.7,337.90 L116.2,338.17 L116.7,338.19 L117.2,338.12 L117.7,338.16 L118.2,338.30 L118.7,338.38 L119.2,338.40 L119.7,338.40 L120.2,338.40 L120.7,338.40 L121.2,338.39 L121.7,338.38 L122.2,338.36 L122.7,338.31 L123.2,338.20 L123.7,337.97 L124.2,337.57 L124.7,336.98 L125.2,335.97 L125.7,334.28 L126.2,334.16 L126.7,336.19 L127.2,337.52 L127.7,337.95 L128.2,337.95 L128.7,337.30 L129.2,335.29 L129.7,332.47 L130.2,331.19 L130.7,331.48 L131.2,331.44 L131.7,331.08 L132.2,331.04 L132.7,331.38 L133.2,332.10 L133.7,333.22 L134.2,334.65 L134.7,336.02 L135.2,336.78 L135.7,336.49 L136.2,335.32 L136.7,334.19 L137.2,333.91 L137.7,334.28 L138.2,334.94 L138.7,335.96 L139.2,337.11 L139.7,337.76 L140.2,337.22 L140.7,334.64 L141.2,331.14 L141.7,330.88 L142.2,334.25 L142.7,337.07 L143.2,338.10 L143.7,338.33 L144.2,338.26 L144.7,337.75 L145.2,336.60 L145.7,335.47 L146.2,335.56 L146.7,336.67 L147.2,337.68 L147.7,338.20 L148.2,338.37 L148.7,338.38 L149.2,338.31 L149.7,337.99 L150.2,337.18 L150.7,336.06 L151.2,335.52 L151.7,335.80 L152.2,336.04 L152.7,335.74 L153.2,335.10 L153.7,334.63 L154.2,334.84 L154.7,335.69 L155.2,336.48 L155.7,336.30 L156.2,334.72 L156.7,332.36 L157.2,330.30 L157.7,329.10 L158.2,329.43 L158.7,331.30 L159.2,332.56 L159.7,331.56 L160.2,329.68 L160.7,329.31 L161.2,330.46 L161.7,331.57 L162.2,332.96 L162.7,334.80 L163.2,336.34 L163.7,337.30 L164.2,337.72 L164.7,337.71 L165.2,337.36 L165.7,336.90 L166.2,336.56 L166.7,336.53 L167.2,336.83 L167.7,337.32 L168.2,337.77 L168.7,338.03 L169.2,338.13 L169.7,338.14 L170.2,338.16 L170.7,338.20 L171.2,338.25 L171.7,338.30 L172.2,338.33 L172.7,338.33 L173.2,338.29 L173.7,338.24 L174.2,338.21 L174.7,338.22 L175.2,338.26 L175.7,338.32 L175.7,339.4 Z" fill="#e0201f" stroke="none"/>
<path d="M197.7,249.7 L197.7,248.70 L198.2,248.70 L198.7,248.70 L199.2,248.69 L199.7,248.69 L200.2,248.68 L200.7,248.66 L201.2,248.66 L201.7,248.65 L202.2,248.66 L202.7,248.67 L203.2,248.68 L203.7,248.69 L204.2,248.69 L204.7,248.68 L205.2,248.66 L205.7,248.63 L206.2,248.60 L206.7,248.56 L207.2,248.54 L207.7,248.53 L208.2,248.56 L208.7,248.59 L209.2,248.63 L209.7,248.66 L210.2,248.68 L210.7,248.69 L211.2,248.69 L211.7,248.69 L212.2,248.68 L212.7,248.65 L213.2,248.59 L213.7,248.47 L214.2,248.30 L214.7,248.11 L215.2,248.01 L215.7,248.09 L216.2,248.29 L216.7,248.49 L217.2,248.61 L217.7,248.67 L218.2,248.68 L218.7,248.66 L219.2,248.61 L219.7,248.53 L220.2,248.43 L220.7,248.37 L221.2,248.36 L221.7,248.42 L222.2,248.48 L222.7,248.52 L223.2,248.52 L223.7,248.51 L224.2,248.48 L224.7,248.40 L225.2,248.31 L225.7,248.25 L226.2,248.24 L226.7,248.30 L227.2,248.39 L227.7,248.50 L228.2,248.59 L228.7,248.64 L229.2,248.66 L229.7,248.57 L230.2,248.34 L230.7,248.20 L231.2,248.29 L231.7,248.41 L232.2,248.36 L232.7,248.22 L233.2,248.11 L233.7,248.02 L234.2,247.86 L234.7,247.79 L235.2,247.79 L235.7,247.67 L236.2,247.41 L236.7,247.16 L237.2,247.00 L237.7,246.59 L238.2,246.31 L238.7,246.30 L239.2,246.34 L239.7,246.35 L240.2,246.36 L240.7,246.36 L241.2,246.35 L241.7,246.35 L242.2,246.38 L242.7,246.38 L243.2,246.20 L243.7,246.19 L244.2,246.82 L244.7,247.45 L245.2,247.88 L245.7,248.22 L246.2,248.38 L246.7,248.20 L247.2,247.82 L247.7,247.94 L248.2,248.39 L248.7,248.59 L249.2,248.61 L249.7,248.61 L250.2,248.59 L250.7,248.53 L251.2,248.39 L251.7,248.23 L252.2,248.21 L252.7,248.34 L253.2,248.51 L253.7,248.61 L254.2,248.62 L254.7,248.57 L255.2,248.52 L255.7,248.53 L256.2,248.58 L256.7,248.64 L257.2,248.68 L257.7,248.69 L258.2,248.70 L258.7,248.69 L259.2,248.66 L259.7,248.57 L260.2,248.46 L260.7,248.40 L261.2,248.38 L261.7,248.33 L262.2,248.26 L262.7,248.17 L263.2,248.01 L263.7,247.84 L264.2,247.88 L264.7,248.03 L265.2,248.09 L265.7,248.07 L266.2,248.05 L266.7,248.13 L267.2,248.34 L267.7,248.52 L268.2,248.61 L268.7,248.65 L269.2,248.66 L269.7,248.68 L270.2,248.69 L270.7,248.69 L271.2,248.70 L271.7,248.70 L272.2,248.69 L272.7,248.67 L273.2,248.60 L273.7,248.48 L274.2,248.24 L274.7,247.78 L275.2,247.33 L275.7,247.36 L276.2,247.73 L276.7,248.03 L277.2,248.21 L277.7,248.26 L278.2,248.17 L278.7,248.08 L279.2,248.10 L279.7,248.11 L280.2,248.04 L280.7,247.96 L281.2,247.93 L281.7,247.92 L282.2,247.92 L282.7,247.93 L283.2,247.97 L283.7,248.01 L284.2,248.13 L284.7,248.35 L285.2,248.45 L285.7,248.40 L286.2,248.31 L286.7,248.27 L287.2,248.29 L287.7,248.28 L288.2,248.24 L288.7,248.23 L289.2,248.26 L289.7,248.31 L290.2,248.38 L290.7,248.44 L291.2,248.50 L291.7,248.53 L292.2,248.52 L292.7,248.47 L293.2,248.39 L293.7,248.16 L294.2,247.90 L294.7,248.12 L295.2,248.42 L295.7,248.54 L296.2,248.57 L296.7,248.57 L297.2,248.47 L297.7,248.29 L298.2,248.35 L298.7,248.57 L299.2,248.66 L299.7,248.63 L300.2,248.55 L300.7,248.42 L301.2,248.20 L301.7,247.97 L302.2,247.94 L302.7,248.10 L303.2,248.18 L303.7,248.03 L304.2,247.81 L304.7,247.80 L305.2,247.98 L305.7,248.14 L306.2,248.28 L306.7,248.42 L307.2,248.49 L307.7,248.40 L308.2,248.15 L308.7,247.86 L309.2,247.77 L309.7,247.87 L310.2,247.95 L310.7,247.91 L311.2,247.82 L311.7,247.76 L312.2,247.79 L312.7,247.90 L313.2,248.04 L313.7,248.13 L314.2,248.16 L314.7,248.12 L315.2,248.09 L315.7,248.10 L316.2,248.12 L316.7,248.09 L317.2,248.05 L317.7,248.18 L318.2,248.43 L318.7,248.59 L319.2,248.66 L319.7,248.69 L320.2,248.68 L320.7,248.65 L321.2,248.62 L321.7,248.66 L322.2,248.69 L322.7,248.70 L323.2,248.70 L323.7,248.70 L324.2,248.62 L324.7,246.12 L325.2,237.04 L325.7,229.79 L326.2,228.21 L326.7,228.16 L327.2,229.06 L327.7,234.95 L328.2,244.59 L328.7,248.34 L329.2,248.57 L329.7,248.60 L330.2,248.61 L330.7,248.56 L331.2,248.48 L331.7,248.34 L332.2,248.19 L332.7,248.03 L333.2,247.91 L333.7,247.86 L334.2,247.90 L334.7,247.99 L335.2,248.05 L335.7,248.06 L336.2,248.02 L336.7,247.99 L337.2,247.98 L337.7,248.01 L338.2,248.10 L338.6,249.7 Z" fill="#1e328c" stroke="none"/>
<path d="M197.7,281.4 L197.7,280.40 L198.2,280.40 L198.7,280.40 L199.2,280.40 L199.7,280.38 L200.2,280.33 L200.7,280.22 L201.2,280.02 L201.7,279.76 L202.2,279.52 L202.7,279.35 L203.2,279.27 L203.7,279.36 L204.2,279.60 L204.7,279.88 L205.2,280.06 L205.7,280.17 L206.2,280.24 L206.7,280.30 L207.2,280.35 L207.7,280.38 L208.2,280.39 L208.7,280.40 L209.2,280.40 L209.7,280.39 L210.2,280.36 L210.7,280.26 L211.2,280.16 L211.7,280.17 L212.2,280.28 L212.7,280.36 L213.2,280.37 L213.7,280.32 L214.2,280.28 L214.7,280.29 L215.2,280.32 L215.7,280.31 L216.2,280.23 L216.7,280.11 L217.2,280.00 L217.7,279.94 L218.2,279.96 L218.7,280.00 L219.2,279.98 L219.7,279.87 L220.2,279.71 L220.7,279.30 L221.2,278.93 L221.7,279.47 L222.2,279.97 L222.7,280.08 L223.2,279.97 L223.7,279.71 L224.2,279.58 L224.7,279.61 L225.2,279.44 L225.7,278.98 L226.2,278.44 L226.7,278.18 L227.2,278.21 L227.7,278.42 L228.2,278.96 L228.7,279.29 L229.2,279.14 L229.7,279.11 L230.2,279.19 L230.7,279.22 L231.2,279.09 L231.7,278.61 L232.2,277.73 L232.7,276.58 L233.2,275.43 L233.7,274.59 L234.2,274.30 L234.7,274.50 L235.2,274.93 L235.7,275.41 L236.2,275.96 L236.7,276.65 L237.2,277.44 L237.7,278.21 L238.2,278.79 L238.7,279.08 L239.2,279.10 L239.7,278.91 L240.2,278.69 L240.7,278.73 L241.2,279.06 L241.7,279.39 L242.2,279.61 L242.7,279.73 L243.2,279.67 L243.7,279.39 L244.2,279.03 L244.7,278.70 L245.2,278.36 L245.7,278.06 L246.2,277.85 L246.7,277.66 L247.2,277.48 L247.7,277.42 L248.2,277.59 L248.7,277.93 L249.2,278.31 L249.7,278.64 L250.2,278.92 L250.7,279.24 L251.2,279.61 L251.7,279.94 L252.2,280.17 L252.7,280.24 L253.2,280.17 L253.7,279.94 L254.2,279.67 L254.7,279.60 L255.2,279.80 L255.7,280.09 L256.2,280.28 L256.7,280.35 L257.2,280.33 L257.7,280.23 L258.2,280.08 L258.7,279.98 L259.2,279.99 L259.7,280.06 L260.2,280.13 L260.7,280.16 L261.2,280.20 L261.7,280.23 L262.2,280.21 L262.7,280.08 L263.2,279.85 L263.7,279.68 L264.2,279.78 L264.7,280.01 L265.2,280.11 L265.7,280.08 L266.2,279.99 L266.7,279.88 L267.2,279.76 L267.7,279.64 L268.2,279.61 L268.7,279.73 L269.2,279.89 L269.7,280.00 L270.2,280.05 L270.7,280.05 L271.2,279.99 L271.7,279.85 L272.2,279.68 L272.7,279.60 L273.2,279.59 L273.7,279.64 L274.2,279.77 L274.7,279.95 L275.2,280.10 L275.7,280.16 L276.2,280.10 L276.7,279.94 L277.2,279.74 L277.7,279.57 L278.2,279.45 L278.7,279.46 L279.2,279.67 L279.7,279.89 L280.2,280.02 L280.7,280.07 L281.2,280.03 L281.7,279.94 L282.2,279.86 L282.7,279.84 L283.2,279.91 L283.7,280.07 L284.2,280.22 L284.7,280.30 L285.2,280.30 L285.7,280.22 L286.2,280.07 L286.7,279.80 L287.2,279.49 L287.7,279.31 L288.2,279.30 L288.7,279.37 L289.2,279.35 L289.7,279.44 L290.2,279.67 L290.7,279.91 L291.2,280.05 L291.7,280.11 L292.2,280.16 L292.7,280.23 L293.2,280.28 L293.7,280.27 L294.2,280.15 L294.7,279.96 L295.2,279.77 L295.7,279.73 L296.2,279.99 L296.7,280.20 L297.2,280.23 L297.7,280.24 L298.2,280.12 L298.7,279.88 L299.2,279.70 L299.7,279.60 L300.2,279.59 L300.7,279.68 L301.2,279.74 L301.7,279.78 L302.2,279.81 L302.7,279.78 L303.2,279.75 L303.7,279.86 L304.2,280.08 L304.7,280.25 L305.2,280.29 L305.7,280.22 L306.2,280.04 L306.7,279.77 L307.2,279.50 L307.7,279.32 L308.2,279.30 L308.7,279.42 L309.2,279.57 L309.7,279.77 L310.2,280.06 L310.7,280.17 L311.2,280.22 L311.7,280.29 L312.2,280.27 L312.7,280.17 L313.2,279.99 L313.7,279.86 L314.2,279.97 L314.7,280.16 L315.2,280.20 L315.7,280.16 L316.2,280.19 L316.7,280.22 L317.2,280.23 L317.7,280.25 L318.2,280.30 L318.7,280.31 L319.2,280.25 L319.7,280.16 L320.2,280.06 L320.7,280.00 L321.2,279.96 L321.7,279.95 L322.2,280.03 L322.7,280.15 L323.2,280.21 L323.7,280.20 L324.2,280.16 L324.7,280.14 L325.2,280.14 L325.7,280.12 L326.2,280.02 L326.7,279.83 L327.2,279.44 L327.7,278.96 L328.2,278.95 L328.7,279.24 L329.2,279.45 L329.7,279.62 L330.2,279.77 L330.7,279.84 L331.2,279.81 L331.7,279.77 L332.2,279.82 L332.7,279.94 L333.2,280.05 L333.7,280.05 L334.2,280.02 L334.7,280.08 L335.2,280.18 L335.7,280.15 L336.2,279.98 L336.7,279.87 L337.2,279.89 L337.7,279.95 L338.2,280.04 L338.6,281.4 Z" fill="#f26522" stroke="none"/>
<path d="M197.7,312.4 L197.7,311.40 L198.2,311.40 L198.7,311.40 L199.2,311.39 L199.7,311.38 L200.2,311.37 L200.7,311.36 L201.2,311.35 L201.7,311.36 L202.2,311.37 L202.7,311.38 L203.2,311.39 L203.7,311.40 L204.2,311.40 L204.7,311.37 L205.2,311.24 L205.7,311.18 L206.2,311.31 L206.7,311.38 L207.2,311.35 L207.7,311.23 L208.2,311.05 L208.7,310.96 L209.2,310.98 L209.7,311.06 L210.2,311.17 L210.7,311.28 L211.2,311.31 L211.7,311.21 L212.2,311.11 L212.7,311.17 L213.2,311.29 L213.7,311.33 L214.2,311.36 L214.7,311.39 L215.2,311.40 L215.7,311.40 L216.2,311.40 L216.7,311.40 L217.2,311.40 L217.7,311.40 L218.2,311.40 L218.7,311.40 L219.2,311.40 L219.7,311.40 L220.2,311.40 L220.7,311.40 L221.2,311.40 L221.7,311.40 L222.2,311.40 L222.7,311.40 L223.2,311.40 L223.7,311.40 L224.2,311.40 L224.7,311.39 L225.2,311.35 L225.7,311.21 L226.2,311.04 L226.7,311.07 L227.2,311.25 L227.7,311.34 L228.2,311.24 L228.7,311.05 L229.2,311.02 L229.7,310.92 L230.2,310.80 L230.7,311.01 L231.2,311.18 L231.7,311.17 L232.2,310.95 L232.7,310.68 L233.2,310.58 L233.7,310.25 L234.2,309.80 L234.7,309.49 L235.2,309.23 L235.7,309.53 L236.2,310.28 L236.7,310.76 L237.2,310.92 L237.7,310.94 L238.2,310.93 L238.7,310.94 L239.2,310.94 L239.7,310.89 L240.2,310.74 L240.7,310.50 L241.2,310.25 L241.7,310.22 L242.2,310.43 L242.7,310.47 L243.2,310.20 L243.7,309.96 L244.2,309.91 L244.7,309.98 L245.2,310.10 L245.7,310.22 L246.2,310.35 L246.7,310.50 L247.2,310.65 L247.7,310.75 L248.2,310.74 L248.7,310.65 L249.2,310.54 L249.7,310.49 L250.2,310.53 L250.7,310.62 L251.2,310.69 L251.7,310.72 L252.2,310.73 L252.7,310.78 L253.2,310.88 L253.7,311.06 L254.2,311.17 L254.7,311.08 L255.2,310.83 L255.7,310.59 L256.2,310.41 L256.7,310.26 L257.2,310.36 L257.7,310.70 L258.2,310.97 L258.7,311.05 L259.2,310.87 L259.7,310.93 L260.2,311.12 L260.7,311.09 L261.2,311.11 L261.7,311.27 L262.2,311.37 L262.7,311.40 L263.2,311.40 L263.7,311.40 L264.2,311.40 L264.7,311.40 L265.2,311.40 L265.7,311.40 L266.2,311.40 L266.7,311.40 L267.2,311.40 L267.7,311.40 L268.2,311.40 L268.7,311.40 L269.2,311.40 L269.7,311.40 L270.2,311.40 L270.7,311.40 L271.2,311.39 L271.7,311.35 L272.2,311.29 L272.7,311.22 L273.2,311.05 L273.7,310.74 L274.2,310.48 L274.7,310.51 L275.2,310.74 L275.7,310.89 L276.2,310.87 L276.7,310.80 L277.2,310.89 L277.7,311.11 L278.2,311.28 L278.7,311.32 L279.2,311.27 L279.7,311.17 L280.2,311.08 L280.7,311.04 L281.2,311.08 L281.7,311.17 L282.2,311.27 L282.7,311.34 L283.2,311.38 L283.7,311.39 L284.2,311.40 L284.7,311.40 L285.2,311.40 L285.7,311.40 L286.2,311.40 L286.7,311.40 L287.2,311.38 L287.7,311.33 L288.2,311.30 L288.7,311.33 L289.2,311.37 L289.7,311.40 L290.2,311.40 L290.7,311.40 L291.2,311.40 L291.7,311.40 L292.2,311.39 L292.7,311.38 L293.2,311.34 L293.7,311.26 L294.2,311.15 L294.7,311.02 L295.2,310.95 L295.7,310.95 L296.2,310.96 L296.7,310.90 L297.2,310.80 L297.7,310.84 L298.2,310.95 L298.7,311.02 L299.2,311.09 L299.7,311.20 L300.2,311.30 L300.7,311.37 L301.2,311.39 L301.7,311.40 L302.2,311.40 L302.7,311.40 L303.2,311.40 L303.7,311.39 L304.2,311.38 L304.7,311.34 L305.2,311.26 L305.7,311.16 L306.2,311.08 L306.7,311.07 L307.2,311.12 L307.7,311.20 L308.2,311.25 L308.7,311.25 L309.2,311.19 L309.7,311.05 L310.2,310.84 L310.7,310.63 L311.2,310.52 L311.7,310.58 L312.2,310.75 L312.7,310.94 L313.2,311.09 L313.7,311.19 L314.2,311.26 L314.7,311.31 L315.2,311.35 L315.7,311.37 L316.2,311.39 L316.7,311.40 L317.2,311.40 L317.7,311.40 L318.2,311.40 L318.7,311.40 L319.2,311.40 L319.7,311.40 L320.2,311.40 L320.7,311.40 L321.2,311.40 L321.7,311.39 L322.2,311.34 L322.7,311.25 L323.2,311.12 L323.7,311.02 L324.2,311.05 L324.7,311.16 L325.2,311.25 L325.7,311.26 L326.2,311.19 L326.7,311.08 L327.2,310.96 L327.7,310.86 L328.2,310.73 L328.7,310.55 L329.2,310.49 L329.7,310.71 L330.2,311.02 L330.7,311.21 L331.2,311.27 L331.7,311.30 L332.2,311.31 L332.7,311.29 L333.2,311.26 L333.7,311.20 L334.2,311.11 L334.7,311.01 L335.2,311.01 L335.7,311.07 L336.2,311.04 L336.7,310.97 L337.2,311.00 L337.7,311.14 L338.2,311.29 L338.6,312.4 Z" fill="#2e9e48" stroke="none"/>
<path d="M197.7,339.4 L197.7,338.39 L198.2,338.38 L198.7,338.36 L199.2,338.32 L199.7,338.27 L200.2,338.25 L200.7,338.23 L201.2,338.19 L201.7,338.11 L202.2,338.00 L202.7,337.92 L203.2,337.92 L203.7,337.99 L204.2,338.11 L204.7,338.20 L205.2,338.23 L205.7,338.20 L206.2,338.12 L206.7,338.02 L207.2,337.92 L207.7,337.84 L208.2,337.78 L208.7,337.80 L209.2,337.90 L209.7,337.99 L210.2,337.96 L210.7,337.96 L211.2,338.12 L211.7,338.26 L212.2,338.28 L212.7,338.22 L213.2,338.16 L213.7,338.10 L214.2,338.06 L214.7,338.03 L215.2,338.03 L215.7,338.05 L216.2,338.08 L216.7,338.13 L217.2,338.19 L217.7,338.25 L218.2,338.31 L218.7,338.35 L219.2,338.37 L219.7,338.39 L220.2,338.40 L220.7,338.40 L221.2,338.40 L221.7,338.39 L222.2,338.37 L222.7,338.35 L223.2,338.33 L223.7,338.33 L224.2,338.35 L224.7,338.37 L225.2,338.38 L225.7,338.38 L226.2,338.34 L226.7,338.24 L227.2,338.06 L227.7,337.80 L228.2,337.45 L228.7,336.90 L229.2,336.16 L229.7,335.70 L230.2,335.65 L230.7,335.41 L231.2,334.58 L231.7,333.34 L232.2,332.23 L232.7,331.72 L233.2,332.12 L233.7,333.37 L234.2,334.96 L234.7,336.42 L235.2,337.40 L235.7,337.63 L236.2,337.23 L236.7,336.67 L237.2,336.70 L237.7,337.32 L238.2,337.89 L238.7,338.14 L239.2,338.00 L239.7,337.24 L240.2,336.00 L240.7,335.46 L241.2,336.29 L241.7,337.39 L242.2,337.68 L242.7,337.48 L243.2,337.69 L243.7,337.91 L244.2,337.53 L244.7,336.99 L245.2,336.84 L245.7,336.80 L246.2,336.73 L246.7,337.19 L247.2,337.83 L247.7,337.93 L248.2,337.44 L248.7,336.50 L249.2,335.37 L249.7,334.48 L250.2,334.24 L250.7,334.67 L251.2,335.63 L251.7,336.79 L252.2,337.60 L252.7,337.62 L253.2,336.79 L253.7,335.95 L254.2,335.90 L254.7,336.21 L255.2,336.40 L255.7,336.65 L256.2,337.08 L256.7,337.43 L257.2,337.47 L257.7,337.15 L258.2,336.50 L258.7,335.66 L259.2,335.06 L259.7,334.94 L260.2,335.36 L260.7,336.23 L261.2,336.98 L261.7,337.30 L262.2,337.47 L262.7,337.62 L263.2,337.78 L263.7,337.90 L264.2,337.98 L264.7,338.02 L265.2,338.04 L265.7,338.07 L266.2,338.12 L266.7,338.17 L267.2,338.19 L267.7,338.18 L268.2,338.03 L268.7,337.86 L269.2,338.02 L269.7,338.28 L270.2,338.38 L270.7,338.37 L271.2,338.25 L271.7,337.90 L272.2,337.37 L272.7,337.16 L273.2,337.60 L273.7,338.01 L274.2,337.96 L274.7,337.64 L275.2,337.30 L275.7,337.06 L276.2,337.07 L276.7,337.51 L277.2,338.02 L277.7,338.26 L278.2,338.25 L278.7,338.08 L279.2,337.83 L279.7,337.65 L280.2,337.61 L280.7,337.55 L281.2,337.27 L281.7,337.21 L282.2,337.55 L282.7,337.81 L283.2,337.88 L283.7,337.85 L284.2,337.82 L284.7,337.85 L285.2,337.92 L285.7,337.97 L286.2,337.97 L286.7,337.91 L287.2,337.80 L287.7,337.66 L288.2,337.50 L288.7,337.36 L289.2,337.33 L289.7,337.43 L290.2,337.61 L290.7,337.78 L291.2,337.88 L291.7,337.94 L292.2,337.96 L292.7,337.94 L293.2,337.87 L293.7,337.80 L294.2,337.80 L294.7,337.85 L295.2,337.90 L295.7,337.90 L296.2,337.81 L296.7,337.54 L297.2,337.09 L297.7,336.66 L298.2,336.65 L298.7,337.03 L299.2,337.38 L299.7,337.55 L300.2,337.66 L300.7,337.68 L301.2,337.38 L301.7,336.86 L302.2,337.05 L302.7,337.73 L303.2,338.16 L303.7,338.25 L304.2,338.08 L304.7,337.66 L305.2,337.33 L305.7,337.28 L306.2,337.03 L306.7,336.44 L307.2,335.51 L307.7,335.02 L308.2,335.87 L308.7,337.00 L309.2,337.66 L309.7,337.99 L310.2,338.06 L310.7,337.85 L311.2,337.59 L311.7,337.59 L312.2,337.75 L312.7,337.93 L313.2,338.11 L313.7,338.26 L314.2,338.33 L314.7,338.35 L315.2,338.28 L315.7,338.00 L316.2,337.50 L316.7,337.27 L317.2,337.47 L317.7,337.66 L318.2,337.78 L318.7,337.87 L319.2,337.86 L319.7,337.68 L320.2,337.73 L320.7,338.10 L321.2,338.34 L321.7,338.38 L322.2,338.32 L322.7,338.14 L323.2,337.82 L323.7,337.46 L324.2,337.21 L324.7,337.07 L325.2,337.03 L325.7,337.26 L326.2,337.74 L326.7,338.08 L327.2,338.19 L327.7,338.16 L328.2,338.08 L328.7,337.98 L329.2,337.88 L329.7,337.64 L330.2,337.14 L330.7,336.65 L331.2,336.63 L331.7,336.92 L332.2,337.29 L332.7,337.67 L333.2,337.98 L333.7,338.12 L334.2,338.06 L334.7,337.79 L335.2,337.34 L335.7,336.89 L336.2,336.59 L336.7,336.24 L337.2,336.04 L337.7,336.84 L338.2,337.77 L338.6,339.4 Z" fill="#e0201f" stroke="none"/>
<path d="M361.5,249.7 L361.5,248.70 L362.0,248.69 L362.5,248.68 L363.0,248.67 L363.5,248.67 L364.0,248.68 L364.5,248.69 L365.0,248.69 L365.5,248.69 L366.0,248.68 L366.5,248.65 L367.0,248.63 L367.5,248.60 L368.0,248.54 L368.5,248.50 L369.0,248.56 L369.5,248.64 L370.0,248.68 L370.5,248.70 L371.0,248.70 L371.5,248.70 L372.0,248.70 L372.5,248.70 L373.0,248.70 L373.5,248.70 L374.0,248.70 L374.5,248.70 L375.0,248.70 L375.5,248.69 L376.0,248.68 L376.5,248.65 L377.0,248.60 L377.5,248.52 L378.0,248.45 L378.5,248.42 L379.0,248.44 L379.5,248.50 L380.0,248.57 L380.5,248.62 L381.0,248.66 L381.5,248.69 L382.0,248.70 L382.5,248.70 L383.0,248.70 L383.5,248.68 L384.0,248.60 L384.5,248.48 L385.0,248.47 L385.5,248.57 L386.0,248.59 L386.5,248.54 L387.0,248.43 L387.5,248.28 L388.0,248.11 L388.5,248.04 L389.0,248.13 L389.5,248.31 L390.0,248.46 L390.5,248.54 L391.0,248.59 L391.5,248.63 L392.0,248.66 L392.5,248.67 L393.0,248.63 L393.5,248.54 L394.0,248.49 L394.5,248.58 L395.0,248.67 L395.5,248.70 L396.0,248.70 L396.5,248.70 L397.0,248.70 L397.5,248.70 L398.0,248.70 L398.5,248.70 L399.0,248.70 L399.5,248.70 L400.0,248.70 L400.5,248.70 L401.0,248.70 L401.5,248.70 L402.0,248.70 L402.5,248.69 L403.0,248.68 L403.5,248.66 L404.0,248.65 L404.5,248.65 L405.0,248.65 L405.5,248.65 L406.0,248.64 L406.5,248.62 L407.0,248.59 L407.5,248.55 L408.0,248.52 L408.5,248.52 L409.0,248.55 L409.5,248.59 L410.0,248.62 L410.5,248.63 L411.0,248.63 L411.5,248.62 L412.0,248.60 L412.5,248.56 L413.0,248.51 L413.5,248.46 L414.0,248.46 L414.5,248.53 L415.0,248.62 L415.5,248.67 L416.0,248.69 L416.5,248.70 L417.0,248.70 L417.5,248.70 L418.0,248.70 L418.5,248.70 L419.0,248.70 L419.5,248.69 L420.0,248.68 L420.5,248.66 L421.0,248.66 L421.5,248.65 L422.0,248.63 L422.5,248.59 L423.0,248.53 L423.5,248.49 L424.0,248.50 L424.5,248.55 L425.0,248.61 L425.5,248.66 L426.0,248.69 L426.5,248.70 L427.0,248.70 L427.5,248.70 L428.0,248.70 L428.5,248.70 L429.0,248.70 L429.5,248.69 L430.0,248.64 L430.5,248.56 L431.0,248.49 L431.5,248.51 L432.0,248.60 L432.5,248.66 L433.0,248.65 L433.5,248.56 L434.0,248.41 L434.5,248.28 L435.0,248.23 L435.5,248.29 L436.0,248.36 L436.5,248.39 L437.0,248.35 L437.5,248.25 L438.0,248.25 L438.5,248.38 L439.0,248.49 L439.5,248.57 L440.0,248.62 L440.5,248.66 L441.0,248.68 L441.5,248.69 L442.0,248.70 L442.5,248.70 L443.0,248.70 L443.5,248.70 L444.0,248.70 L444.5,248.70 L445.0,248.70 L445.5,248.70 L446.0,248.70 L446.5,248.70 L447.0,248.70 L447.5,248.70 L448.0,248.70 L448.5,248.69 L449.0,248.68 L449.5,248.65 L450.0,248.61 L450.5,248.54 L451.0,248.46 L451.5,248.44 L452.0,248.46 L452.5,248.49 L453.0,248.53 L453.5,248.58 L454.0,248.63 L454.5,248.66 L455.0,248.68 L455.5,248.69 L456.0,248.69 L456.5,248.68 L457.0,248.66 L457.5,248.66 L458.0,248.67 L458.5,248.67 L459.0,248.66 L459.5,248.64 L460.0,248.58 L460.5,248.48 L461.0,248.34 L461.5,248.24 L462.0,248.26 L462.5,248.38 L463.0,248.47 L463.5,248.51 L464.0,248.53 L464.5,248.49 L465.0,248.46 L465.5,248.54 L466.0,248.64 L466.5,248.68 L467.0,248.68 L467.5,248.66 L468.0,248.64 L468.5,248.63 L469.0,248.63 L469.5,248.64 L470.0,248.66 L470.5,248.67 L471.0,248.69 L471.5,248.68 L472.0,248.62 L472.5,248.53 L473.0,248.50 L473.5,248.58 L474.0,248.66 L474.5,248.69 L475.0,248.70 L475.5,248.70 L476.0,248.70 L476.5,248.70 L477.0,248.70 L477.5,248.70 L478.0,248.70 L478.5,248.70 L479.0,248.70 L479.5,248.70 L480.0,248.70 L480.5,248.70 L481.0,248.70 L481.5,248.68 L482.0,248.63 L482.5,248.55 L483.0,248.52 L483.5,248.59 L484.0,248.66 L484.5,248.69 L485.0,248.69 L485.5,248.69 L486.0,248.67 L486.5,248.65 L487.0,248.62 L487.5,248.58 L488.0,248.54 L488.5,248.52 L489.0,248.52 L489.5,248.55 L490.0,248.58 L490.5,248.61 L491.0,248.63 L491.5,248.60 L492.0,248.43 L492.5,248.00 L493.0,247.31 L493.5,246.60 L494.0,246.33 L494.5,246.75 L495.0,247.54 L495.5,248.19 L496.0,248.49 L496.5,248.54 L497.0,248.50 L497.5,248.45 L498.0,248.42 L498.5,248.42 L499.0,248.41 L499.5,248.49 L500.0,248.60 L500.5,248.64 L501.0,248.66 L501.3,249.7 Z" fill="#1e328c" stroke="none"/>
<path d="M361.5,281.4 L361.5,279.91 L362.0,279.81 L362.5,279.81 L363.0,279.92 L363.5,280.07 L364.0,280.20 L364.5,280.30 L365.0,280.34 L365.5,280.27 L366.0,280.13 L366.5,280.09 L367.0,280.22 L367.5,280.35 L368.0,280.39 L368.5,280.40 L369.0,280.40 L369.5,280.40 L370.0,280.40 L370.5,280.40 L371.0,280.39 L371.5,280.36 L372.0,280.33 L372.5,280.32 L373.0,280.33 L373.5,280.33 L374.0,280.31 L374.5,280.27 L375.0,280.23 L375.5,280.20 L376.0,280.19 L376.5,280.19 L377.0,280.21 L377.5,280.24 L378.0,280.26 L378.5,280.29 L379.0,280.31 L379.5,280.33 L380.0,280.35 L380.5,280.37 L381.0,280.38 L381.5,280.39 L382.0,280.39 L382.5,280.40 L383.0,280.40 L383.5,280.39 L384.0,280.36 L384.5,280.29 L385.0,280.29 L385.5,280.36 L386.0,280.39 L386.5,280.40 L387.0,280.40 L387.5,280.40 L388.0,280.40 L388.5,280.40 L389.0,280.39 L389.5,280.37 L390.0,280.38 L390.5,280.39 L391.0,280.40 L391.5,280.40 L392.0,280.40 L392.5,280.40 L393.0,280.40 L393.5,280.40 L394.0,280.40 L394.5,280.40 L395.0,280.40 L395.5,280.40 L396.0,280.40 L396.5,280.40 L397.0,280.40 L397.5,280.40 L398.0,280.40 L398.5,280.40 L399.0,280.40 L399.5,280.40 L400.0,280.40 L400.5,280.40 L401.0,280.40 L401.5,280.40 L402.0,280.39 L402.5,280.38 L403.0,280.36 L403.5,280.31 L404.0,280.25 L404.5,280.18 L405.0,280.12 L405.5,280.08 L406.0,280.08 L406.5,280.10 L407.0,280.14 L407.5,280.20 L408.0,280.26 L408.5,280.32 L409.0,280.37 L409.5,280.38 L410.0,280.37 L410.5,280.35 L411.0,280.35 L411.5,280.36 L412.0,280.38 L412.5,280.40 L413.0,280.40 L413.5,280.40 L414.0,280.40 L414.5,280.38 L415.0,280.35 L415.5,280.34 L416.0,280.38 L416.5,280.40 L417.0,280.40 L417.5,280.40 L418.0,280.40 L418.5,280.40 L419.0,280.40 L419.5,280.40 L420.0,280.40 L420.5,280.40 L421.0,280.40 L421.5,280.40 L422.0,280.40 L422.5,280.40 L423.0,280.40 L423.5,280.38 L424.0,280.24 L424.5,280.09 L425.0,280.22 L425.5,280.35 L426.0,280.37 L426.5,280.35 L427.0,280.29 L427.5,280.20 L428.0,280.13 L428.5,280.14 L429.0,280.20 L429.5,280.25 L430.0,280.24 L430.5,280.16 L431.0,280.05 L431.5,279.92 L432.0,279.82 L432.5,279.77 L433.0,279.78 L433.5,279.84 L434.0,279.91 L434.5,279.97 L435.0,280.05 L435.5,280.13 L436.0,280.22 L436.5,280.29 L437.0,280.34 L437.5,280.37 L438.0,280.39 L438.5,280.40 L439.0,280.40 L439.5,280.40 L440.0,280.40 L440.5,280.40 L441.0,280.39 L441.5,280.38 L442.0,280.36 L442.5,280.31 L443.0,280.24 L443.5,280.16 L444.0,280.10 L444.5,280.08 L445.0,280.12 L445.5,280.19 L446.0,280.27 L446.5,280.33 L447.0,280.37 L447.5,280.39 L448.0,280.40 L448.5,280.40 L449.0,280.40 L449.5,280.40 L450.0,280.40 L450.5,280.39 L451.0,280.38 L451.5,280.36 L452.0,280.36 L452.5,280.37 L453.0,280.38 L453.5,280.38 L454.0,280.37 L454.5,280.33 L455.0,280.25 L455.5,280.17 L456.0,280.15 L456.5,280.22 L457.0,280.31 L457.5,280.37 L458.0,280.39 L458.5,280.40 L459.0,280.39 L459.5,280.36 L460.0,280.32 L460.5,280.20 L461.0,280.06 L461.5,280.06 L462.0,280.19 L462.5,280.28 L463.0,280.29 L463.5,280.26 L464.0,280.22 L464.5,280.19 L465.0,280.20 L465.5,280.25 L466.0,280.30 L466.5,280.34 L467.0,280.36 L467.5,280.37 L468.0,280.35 L468.5,280.27 L469.0,280.17 L469.5,280.13 L470.0,280.15 L470.5,280.18 L471.0,280.23 L471.5,280.29 L472.0,280.35 L472.5,280.38 L473.0,280.40 L473.5,280.40 L474.0,280.40 L474.5,280.40 L475.0,280.39 L475.5,280.38 L476.0,280.36 L476.5,280.31 L477.0,280.26 L477.5,280.20 L478.0,280.16 L478.5,280.13 L479.0,280.11 L479.5,280.11 L480.0,280.13 L480.5,280.16 L481.0,280.16 L481.5,280.15 L482.0,280.16 L482.5,280.20 L483.0,280.26 L483.5,280.33 L484.0,280.37 L484.5,280.38 L485.0,280.38 L485.5,280.35 L486.0,280.30 L486.5,280.23 L487.0,280.17 L487.5,280.14 L488.0,280.14 L488.5,280.17 L489.0,280.23 L489.5,280.27 L490.0,280.31 L490.5,280.32 L491.0,280.33 L491.5,280.33 L492.0,280.32 L492.5,280.14 L493.0,275.85 L493.5,265.53 L494.0,262.75 L494.5,265.49 L495.0,275.81 L495.5,280.10 L496.0,280.31 L496.5,280.34 L497.0,280.35 L497.5,280.34 L498.0,280.30 L498.5,280.27 L499.0,280.22 L499.5,280.15 L500.0,280.14 L500.5,280.23 L501.0,280.35 L501.3,281.4 Z" fill="#f26522" stroke="none"/>
<path d="M361.5,312.4 L361.5,311.23 L362.0,311.10 L362.5,311.01 L363.0,311.01 L363.5,311.08 L364.0,311.18 L364.5,311.28 L365.0,311.34 L365.5,311.36 L366.0,311.36 L366.5,311.37 L367.0,311.37 L367.5,311.38 L368.0,311.39 L368.5,311.38 L369.0,311.36 L369.5,311.31 L370.0,311.22 L370.5,311.09 L371.0,310.97 L371.5,310.94 L372.0,311.01 L372.5,311.13 L373.0,311.24 L373.5,311.32 L374.0,311.36 L374.5,311.37 L375.0,311.36 L375.5,311.35 L376.0,311.33 L376.5,311.33 L377.0,311.34 L377.5,311.35 L378.0,311.35 L378.5,311.33 L379.0,311.34 L379.5,311.37 L380.0,311.39 L380.5,311.40 L381.0,311.40 L381.5,311.40 L382.0,311.39 L382.5,311.37 L383.0,311.33 L383.5,311.28 L384.0,311.24 L384.5,311.24 L385.0,311.27 L385.5,311.31 L386.0,311.35 L386.5,311.37 L387.0,311.35 L387.5,311.33 L388.0,311.33 L388.5,311.32 L389.0,311.29 L389.5,311.28 L390.0,311.28 L390.5,311.31 L391.0,311.34 L391.5,311.36 L392.0,311.38 L392.5,311.39 L393.0,311.40 L393.5,311.40 L394.0,311.40 L394.5,311.39 L395.0,311.34 L395.5,311.31 L396.0,311.36 L396.5,311.39 L397.0,311.38 L397.5,311.34 L398.0,311.27 L398.5,311.17 L399.0,311.07 L399.5,311.00 L400.0,311.00 L400.5,311.04 L401.0,311.10 L401.5,311.18 L402.0,311.24 L402.5,311.30 L403.0,311.33 L403.5,311.32 L404.0,311.28 L404.5,311.21 L405.0,311.13 L405.5,311.09 L406.0,311.11 L406.5,311.18 L407.0,311.26 L407.5,311.33 L408.0,311.37 L408.5,311.39 L409.0,311.40 L409.5,311.40 L410.0,311.40 L410.5,311.40 L411.0,311.40 L411.5,311.40 L412.0,311.40 L412.5,311.40 L413.0,311.40 L413.5,311.40 L414.0,311.40 L414.5,311.40 L415.0,311.39 L415.5,311.37 L416.0,311.30 L416.5,311.19 L417.0,311.13 L417.5,311.18 L418.0,311.29 L418.5,311.36 L419.0,311.38 L419.5,311.36 L420.0,311.33 L420.5,311.28 L421.0,311.22 L421.5,311.16 L422.0,311.13 L422.5,311.14 L423.0,311.18 L423.5,311.23 L424.0,311.27 L424.5,311.27 L425.0,311.24 L425.5,311.23 L426.0,311.27 L426.5,311.33 L427.0,311.38 L427.5,311.39 L428.0,311.40 L428.5,311.40 L429.0,311.39 L429.5,311.38 L430.0,311.37 L430.5,311.34 L431.0,311.29 L431.5,311.21 L432.0,311.12 L432.5,311.04 L433.0,311.00 L433.5,311.01 L434.0,311.04 L434.5,311.06 L435.0,311.09 L435.5,311.11 L436.0,311.10 L436.5,311.05 L437.0,311.07 L437.5,311.18 L438.0,311.29 L438.5,311.35 L439.0,311.34 L439.5,311.28 L440.0,311.17 L440.5,311.04 L441.0,310.93 L441.5,310.87 L442.0,310.91 L442.5,311.03 L443.0,311.16 L443.5,311.27 L444.0,311.34 L444.5,311.37 L445.0,311.37 L445.5,311.35 L446.0,311.32 L446.5,311.28 L447.0,311.22 L447.5,311.18 L448.0,311.15 L448.5,311.16 L449.0,311.19 L449.5,311.22 L450.0,311.24 L450.5,311.26 L451.0,311.32 L451.5,311.36 L452.0,311.39 L452.5,311.40 L453.0,311.40 L453.5,311.40 L454.0,311.40 L454.5,311.40 L455.0,311.40 L455.5,311.40 L456.0,311.40 L456.5,311.40 L457.0,311.40 L457.5,311.40 L458.0,311.40 L458.5,311.40 L459.0,311.40 L459.5,311.40 L460.0,311.40 L460.5,311.40 L461.0,311.39 L461.5,311.36 L462.0,311.28 L462.5,311.21 L463.0,311.16 L463.5,311.13 L464.0,311.14 L464.5,311.18 L465.0,311.21 L465.5,311.22 L466.0,311.19 L466.5,311.15 L467.0,311.10 L467.5,311.07 L468.0,311.07 L468.5,311.11 L469.0,311.18 L469.5,311.24 L470.0,311.30 L470.5,311.33 L471.0,311.34 L471.5,311.33 L472.0,311.31 L472.5,311.33 L473.0,311.37 L473.5,311.39 L474.0,311.40 L474.5,311.40 L475.0,311.40 L475.5,311.40 L476.0,311.40 L476.5,311.40 L477.0,311.40 L477.5,311.40 L478.0,311.40 L478.5,311.40 L479.0,311.40 L479.5,311.40 L480.0,311.40 L480.5,311.39 L481.0,311.36 L481.5,311.29 L482.0,311.17 L482.5,311.03 L483.0,310.94 L483.5,310.94 L484.0,311.03 L484.5,311.17 L485.0,311.29 L485.5,311.36 L486.0,311.38 L486.5,311.39 L487.0,311.38 L487.5,311.36 L488.0,311.34 L488.5,311.30 L489.0,311.18 L489.5,311.04 L490.0,311.03 L490.5,311.09 L491.0,311.04 L491.5,310.91 L492.0,310.70 L492.5,310.45 L493.0,310.18 L493.5,309.97 L494.0,309.89 L494.5,309.99 L495.0,310.22 L495.5,310.45 L496.0,310.69 L496.5,311.01 L497.0,311.23 L497.5,311.33 L498.0,311.37 L498.5,311.39 L499.0,311.40 L499.5,311.40 L500.0,311.40 L500.5,311.40 L501.0,311.40 L501.3,312.4 Z" fill="#2e9e48" stroke="none"/>
<path d="M361.5,339.4 L361.5,338.40 L362.0,338.40 L362.5,338.40 L363.0,338.40 L363.5,338.40 L364.0,338.40 L364.5,338.40 L365.0,338.40 L365.5,338.40 L366.0,338.40 L366.5,338.40 L367.0,338.40 L367.5,338.40 L368.0,338.40 L368.5,338.40 L369.0,338.40 L369.5,338.40 L370.0,338.40 L370.5,338.40 L371.0,338.40 L371.5,338.40 L372.0,338.40 L372.5,338.40 L373.0,338.40 L373.5,338.37 L374.0,338.28 L374.5,338.16 L375.0,338.16 L375.5,338.27 L376.0,338.33 L376.5,338.32 L377.0,338.29 L377.5,338.26 L378.0,338.26 L378.5,338.27 L379.0,338.29 L379.5,338.31 L380.0,338.29 L380.5,338.23 L381.0,338.11 L381.5,337.96 L382.0,337.82 L382.5,337.75 L383.0,337.78 L383.5,337.87 L384.0,337.99 L384.5,338.12 L385.0,338.22 L385.5,338.30 L386.0,338.35 L386.5,338.38 L387.0,338.39 L387.5,338.39 L388.0,338.37 L388.5,338.33 L389.0,338.24 L389.5,338.12 L390.0,337.99 L390.5,337.89 L391.0,337.85 L391.5,337.86 L392.0,337.90 L392.5,337.97 L393.0,338.04 L393.5,338.07 L394.0,338.02 L394.5,337.98 L395.0,337.91 L395.5,337.72 L396.0,337.50 L396.5,337.38 L397.0,337.34 L397.5,337.27 L398.0,337.30 L398.5,337.42 L399.0,337.39 L399.5,337.21 L400.0,337.07 L400.5,337.07 L401.0,337.27 L401.5,337.56 L402.0,337.85 L402.5,338.02 L403.0,338.05 L403.5,337.99 L404.0,337.88 L404.5,337.80 L405.0,337.80 L405.5,337.87 L406.0,337.99 L406.5,338.12 L407.0,338.20 L407.5,338.23 L408.0,338.21 L408.5,338.11 L409.0,337.89 L409.5,337.87 L410.0,338.11 L410.5,338.25 L411.0,338.23 L411.5,338.16 L412.0,338.08 L412.5,338.02 L413.0,338.00 L413.5,338.03 L414.0,338.10 L414.5,338.18 L415.0,338.25 L415.5,338.27 L416.0,338.19 L416.5,338.00 L417.0,337.86 L417.5,337.90 L418.0,338.07 L418.5,338.22 L419.0,338.29 L419.5,338.32 L420.0,338.35 L420.5,338.37 L421.0,338.38 L421.5,338.39 L422.0,338.40 L422.5,338.40 L423.0,338.40 L423.5,338.40 L424.0,338.39 L424.5,338.35 L425.0,338.28 L425.5,338.19 L426.0,338.13 L426.5,338.17 L427.0,338.26 L427.5,338.34 L428.0,338.38 L428.5,338.40 L429.0,338.39 L429.5,338.36 L430.0,338.26 L430.5,338.21 L431.0,338.27 L431.5,338.36 L432.0,338.39 L432.5,338.38 L433.0,338.36 L433.5,338.31 L434.0,338.25 L434.5,338.18 L435.0,338.13 L435.5,338.11 L436.0,338.14 L436.5,338.20 L437.0,338.26 L437.5,338.32 L438.0,338.36 L438.5,338.38 L439.0,338.39 L439.5,338.39 L440.0,338.37 L440.5,338.32 L441.0,338.25 L441.5,338.21 L442.0,338.22 L442.5,338.29 L443.0,338.35 L443.5,338.38 L444.0,338.40 L444.5,338.40 L445.0,338.40 L445.5,338.40 L446.0,338.40 L446.5,338.40 L447.0,338.39 L447.5,338.37 L448.0,338.35 L448.5,338.34 L449.0,338.35 L449.5,338.33 L450.0,338.28 L450.5,338.26 L451.0,338.28 L451.5,338.34 L452.0,338.38 L452.5,338.40 L453.0,338.40 L453.5,338.40 L454.0,338.40 L454.5,338.40 L455.0,338.40 L455.5,338.40 L456.0,338.40 L456.5,338.39 L457.0,338.38 L457.5,338.35 L458.0,338.29 L458.5,338.20 L459.0,338.09 L459.5,337.99 L460.0,337.95 L460.5,337.96 L461.0,337.99 L461.5,338.01 L462.0,338.02 L462.5,338.05 L463.0,338.10 L463.5,338.11 L464.0,338.03 L464.5,337.83 L465.0,337.61 L465.5,337.48 L466.0,337.47 L466.5,337.55 L467.0,337.70 L467.5,337.83 L468.0,337.96 L468.5,338.09 L469.0,338.21 L469.5,338.23 L470.0,338.01 L470.5,337.56 L471.0,337.26 L471.5,337.27 L472.0,337.23 L472.5,337.00 L473.0,336.77 L473.5,336.90 L474.0,337.39 L474.5,337.70 L475.0,337.69 L475.5,337.86 L476.0,338.08 L476.5,338.06 L477.0,338.00 L477.5,337.93 L478.0,337.84 L478.5,337.74 L479.0,337.70 L479.5,337.75 L480.0,337.83 L480.5,337.85 L481.0,337.72 L481.5,337.41 L482.0,337.12 L482.5,337.17 L483.0,337.48 L483.5,337.62 L484.0,337.41 L484.5,337.14 L485.0,337.12 L485.5,337.21 L486.0,337.08 L486.5,336.73 L487.0,336.45 L487.5,336.52 L488.0,336.87 L488.5,337.29 L489.0,337.63 L489.5,337.81 L490.0,337.83 L490.5,337.85 L491.0,338.00 L491.5,338.19 L492.0,338.32 L492.5,338.36 L493.0,338.33 L493.5,338.26 L494.0,338.19 L494.5,338.21 L495.0,338.29 L495.5,338.35 L496.0,338.36 L496.5,338.30 L497.0,338.17 L497.5,337.96 L498.0,337.71 L498.5,337.48 L499.0,337.25 L499.5,336.99 L500.0,337.21 L500.5,337.84 L501.0,338.20 L501.3,339.4 Z" fill="#e0201f" stroke="none"/>
<rect x="96.1" y="251.2" width="4.300000000000011" height="2.8" fill="#1e328c"/>
<rect x="126.2" y="251.2" width="4.799999999999997" height="2.8" fill="#1e328c"/>
<rect x="146.8" y="251.2" width="3.799999999999983" height="2.8" fill="#1e328c"/>
<rect x="325" y="251.2" width="3.1999999999999886" height="2.8" fill="#1e328c"/>
<rect x="95.4" y="283.1" width="4.5" height="3" fill="#f07a3c"/>
<rect x="126" y="283.1" width="5" height="3" fill="#f07a3c"/>
<rect x="146" y="283.1" width="5" height="3" fill="#f07a3c"/>
<rect x="493" y="283.1" width="2.6000000000000227" height="3" fill="#f07a3c"/>
<rect x="33.7" y="285" width="1.2" height="3" fill="#f07a3c"/>
<line x1="54.6" y1="348.3" x2="148.3" y2="348.3" stroke="#1f1f6e" stroke-width="0.9"/>
<path d="M81.0,347.2 L82.1,348.3 L81.0,349.40000000000003 M84.0,347.2 L85.1,348.3 L84.0,349.40000000000003 M87.0,347.2 L88.1,348.3 L87.0,349.40000000000003 M90.0,347.2 L91.1,348.3 L90.0,349.40000000000003 M93.0,347.2 L94.1,348.3 L93.0,349.40000000000003 M96.0,347.2 L97.1,348.3 L96.0,349.40000000000003 M99.0,347.2 L100.1,348.3 L99.0,349.40000000000003 M102.0,347.2 L103.1,348.3 L102.0,349.40000000000003 M105.0,347.2 L106.1,348.3 L105.0,349.40000000000003 M108.0,347.2 L109.1,348.3 L108.0,349.40000000000003 M111.0,347.2 L112.1,348.3 L111.0,349.40000000000003 M114.0,347.2 L115.1,348.3 L114.0,349.40000000000003 M117.0,347.2 L118.1,348.3 L117.0,349.40000000000003 M120.0,347.2 L121.1,348.3 L120.0,349.40000000000003 M123.0,347.2 L124.1,348.3 L123.0,349.40000000000003 M126.0,347.2 L127.1,348.3 L126.0,349.40000000000003 M129.0,347.2 L130.1,348.3 L129.0,349.40000000000003 M132.0,347.2 L133.1,348.3 L132.0,349.40000000000003 M135.0,347.2 L136.1,348.3 L135.0,349.40000000000003 M138.0,347.2 L139.1,348.3 L138.0,349.40000000000003 M141.0,347.2 L142.1,348.3 L141.0,349.40000000000003 M144.0,347.2 L145.1,348.3 L144.0,349.40000000000003 M147.0,347.2 L148.1,348.3 L147.0,349.40000000000003" fill="none" stroke="#1f1f6e" stroke-width="0.6"/>
<rect x="54.6" y="346.4" width="10" height="4" fill="#1f1f6e"/>
<rect x="63.6" y="345.2" width="5.8" height="6.4" fill="#1f1f6e"/>
<rect x="70.2" y="345.2" width="4.4" height="6.4" fill="#1f1f6e"/>
<rect x="80" y="345.6" width="1.4" height="5.5" fill="#1f1f6e"/>
<rect x="90" y="346" width="1.0" height="4.8" fill="#1f1f6e"/>
<rect x="147.2" y="346" width="1.3" height="4.8" fill="#1f1f6e"/>
<text x="34.1" y="365.6" font-size="8.61" textLength="25.5" lengthAdjust="spacingAndGlyphs" fill="#45486e" stroke="#45486e" stroke-width="0.29">CSRNP1</text>
<line x1="198.3" y1="349" x2="237.7" y2="349" stroke="#1f1f6e" stroke-width="0.9"/>
<path d="M199.3,347.9 L200.4,349 L199.3,350.1 M202.3,347.9 L203.4,349 L202.3,350.1 M205.3,347.9 L206.4,349 L205.3,350.1 M208.3,347.9 L209.4,349 L208.3,350.1 M211.3,347.9 L212.4,349 L211.3,350.1 M214.3,347.9 L215.4,349 L214.3,350.1 M217.3,347.9 L218.4,349 L217.3,350.1 M220.3,347.9 L221.4,349 L220.3,350.1 M223.3,347.9 L224.4,349 L223.3,350.1 M226.3,347.9 L227.4,349 L226.3,350.1 M229.3,347.9 L230.4,349 L229.3,350.1 M232.3,347.9 L233.4,349 L232.3,350.1" fill="none" stroke="#1f1f6e" stroke-width="0.6"/>
<rect x="233" y="346.6" width="1.0" height="4.8" fill="#1f1f6e"/>
<rect x="234.8" y="347" width="3" height="4" fill="#1f1f6e"/>
<line x1="198.3" y1="353.4" x2="337.5" y2="353.4" stroke="#1f1f6e" stroke-width="0.9"/>
<path d="M199.3,352.29999999999995 L200.4,353.4 L199.3,354.5 M202.3,352.29999999999995 L203.4,353.4 L202.3,354.5 M205.3,352.29999999999995 L206.4,353.4 L205.3,354.5 M208.3,352.29999999999995 L209.4,353.4 L208.3,354.5 M211.3,352.29999999999995 L212.4,353.4 L211.3,354.5 M214.3,352.29999999999995 L215.4,353.4 L214.3,354.5 M217.3,352.29999999999995 L218.4,353.4 L217.3,354.5 M220.3,352.29999999999995 L221.4,353.4 L220.3,354.5 M223.3,352.29999999999995 L224.4,353.4 L223.3,354.5 M226.3,352.29999999999995 L227.4,353.4 L226.3,354.5 M229.3,352.29999999999995 L230.4,353.4 L229.3,354.5 M232.3,352.29999999999995 L233.4,353.4 L232.3,354.5 M235.3,352.29999999999995 L236.4,353.4 L235.3,354.5 M238.3,352.29999999999995 L239.4,353.4 L238.3,354.5 M241.3,352.29999999999995 L242.4,353.4 L241.3,354.5 M244.3,352.29999999999995 L245.4,353.4 L244.3,354.5 M247.3,352.29999999999995 L248.4,353.4 L247.3,354.5 M250.3,352.29999999999995 L251.4,353.4 L250.3,354.5 M253.3,352.29999999999995 L254.4,353.4 L253.3,354.5 M256.3,352.29999999999995 L257.4,353.4 L256.3,354.5 M259.3,352.29999999999995 L260.4,353.4 L259.3,354.5 M262.3,352.29999999999995 L263.4,353.4 L262.3,354.5 M265.3,352.29999999999995 L266.4,353.4 L265.3,354.5 M268.3,352.29999999999995 L269.4,353.4 L268.3,354.5 M271.3,352.29999999999995 L272.4,353.4 L271.3,354.5 M274.3,352.29999999999995 L275.4,353.4 L274.3,354.5 M277.3,352.29999999999995 L278.4,353.4 L277.3,354.5 M280.3,352.29999999999995 L281.4,353.4 L280.3,354.5 M283.3,352.29999999999995 L284.4,353.4 L283.3,354.5 M286.3,352.29999999999995 L287.4,353.4 L286.3,354.5 M289.3,352.29999999999995 L290.4,353.4 L289.3,354.5 M292.3,352.29999999999995 L293.4,353.4 L292.3,354.5 M295.3,352.29999999999995 L296.4,353.4 L295.3,354.5 M298.3,352.29999999999995 L299.4,353.4 L298.3,354.5 M301.3,352.29999999999995 L302.4,353.4 L301.3,354.5 M304.3,352.29999999999995 L305.4,353.4 L304.3,354.5 M307.3,352.29999999999995 L308.4,353.4 L307.3,354.5 M310.3,352.29999999999995 L311.4,353.4 L310.3,354.5 M313.3,352.29999999999995 L314.4,353.4 L313.3,354.5 M316.3,352.29999999999995 L317.4,353.4 L316.3,354.5 M319.3,352.29999999999995 L320.4,353.4 L319.3,354.5 M322.3,352.29999999999995 L323.4,353.4 L322.3,354.5 M325.3,352.29999999999995 L326.4,353.4 L325.3,354.5 M328.3,352.29999999999995 L329.4,353.4 L328.3,354.5 M331.3,352.29999999999995 L332.4,353.4 L331.3,354.5 M334.3,352.29999999999995 L335.4,353.4 L334.3,354.5" fill="none" stroke="#1f1f6e" stroke-width="0.6"/>
<text x="198.6" y="365.3" font-size="8.61" textLength="26" lengthAdjust="spacingAndGlyphs" fill="#45486e" stroke="#45486e" stroke-width="0.29">UBE2D3</text>
<line x1="361.6" y1="347.6" x2="493.6" y2="347.6" stroke="#1f1f6e" stroke-width="0.9"/>
<path d="M362.6,346.5 L363.7,347.6 L362.6,348.70000000000005 M365.6,346.5 L366.7,347.6 L365.6,348.70000000000005 M368.6,346.5 L369.7,347.6 L368.6,348.70000000000005 M371.6,346.5 L372.7,347.6 L371.6,348.70000000000005 M374.6,346.5 L375.7,347.6 L374.6,348.70000000000005 M377.6,346.5 L378.7,347.6 L377.6,348.70000000000005 M380.6,346.5 L381.7,347.6 L380.6,348.70000000000005 M383.6,346.5 L384.7,347.6 L383.6,348.70000000000005 M386.6,346.5 L387.7,347.6 L386.6,348.70000000000005 M389.6,346.5 L390.7,347.6 L389.6,348.70000000000005 M392.6,346.5 L393.7,347.6 L392.6,348.70000000000005 M395.6,346.5 L396.7,347.6 L395.6,348.70000000000005 M398.6,346.5 L399.7,347.6 L398.6,348.70000000000005 M401.6,346.5 L402.7,347.6 L401.6,348.70000000000005 M404.6,346.5 L405.7,347.6 L404.6,348.70000000000005 M407.6,346.5 L408.7,347.6 L407.6,348.70000000000005 M410.6,346.5 L411.7,347.6 L410.6,348.70000000000005 M413.6,346.5 L414.7,347.6 L413.6,348.70000000000005 M416.6,346.5 L417.7,347.6 L416.6,348.70000000000005 M419.6,346.5 L420.7,347.6 L419.6,348.70000000000005 M422.6,346.5 L423.7,347.6 L422.6,348.70000000000005 M425.6,346.5 L426.7,347.6 L425.6,348.70000000000005 M428.6,346.5 L429.7,347.6 L428.6,348.70000000000005 M431.6,346.5 L432.7,347.6 L431.6,348.70000000000005 M434.6,346.5 L435.7,347.6 L434.6,348.70000000000005 M437.6,346.5 L438.7,347.6 L437.6,348.70000000000005 M440.6,346.5 L441.7,347.6 L440.6,348.70000000000005 M443.6,346.5 L444.7,347.6 L443.6,348.70000000000005 M446.6,346.5 L447.7,347.6 L446.6,348.70000000000005 M449.6,346.5 L450.7,347.6 L449.6,348.70000000000005 M452.6,346.5 L453.7,347.6 L452.6,348.70000000000005 M455.6,346.5 L456.7,347.6 L455.6,348.70000000000005 M458.6,346.5 L459.7,347.6 L458.6,348.70000000000005 M461.6,346.5 L462.7,347.6 L461.6,348.70000000000005 M464.6,346.5 L465.7,347.6 L464.6,348.70000000000005 M467.6,346.5 L468.7,347.6 L467.6,348.70000000000005 M470.6,346.5 L471.7,347.6 L470.6,348.70000000000005 M473.6,346.5 L474.7,347.6 L473.6,348.70000000000005 M476.6,346.5 L477.7,347.6 L476.6,348.70000000000005 M479.6,346.5 L480.7,347.6 L479.6,348.70000000000005 M482.6,346.5 L483.7,347.6 L482.6,348.70000000000005 M485.6,346.5 L486.7,347.6 L485.6,348.70000000000005 M488.6,346.5 L489.7,347.6 L488.6,348.70000000000005 M491.6,346.5 L492.7,347.6 L491.6,348.70000000000005" fill="none" stroke="#1f1f6e" stroke-width="0.6"/>
<rect x="364.5" y="345.2" width="1.0" height="4.8" fill="#1f1f6e"/>
<rect x="375.1" y="345.2" width="1.0" height="4.8" fill="#1f1f6e"/>
<rect x="395.8" y="345.2" width="1.0" height="4.8" fill="#1f1f6e"/>
<rect x="427.5" y="345.2" width="1.0" height="4.8" fill="#1f1f6e"/>
<circle cx="428" cy="347.6" r="1.6" fill="none" stroke="#1f1f6e" stroke-width="0.8"/>
<text x="361.6" y="365.3" font-size="8.61" textLength="25.6" lengthAdjust="spacingAndGlyphs" fill="#45486e" stroke="#45486e" stroke-width="0.29">DUSP16</text>
<text x="18" y="395.3" font-size="17.5" font-weight="bold" fill="#000" stroke="#000" stroke-width="0.30">D</text>
<text x="61" y="392.8" font-size="11.87" textLength="183.7" lengthAdjust="spacingAndGlyphs" fill="#231f20" stroke="#231f20" stroke-width="0.30">Genomic distribution of binding sites</text>
<text x="62.7" y="415.2" font-size="12.39" textLength="24.3" lengthAdjust="spacingAndGlyphs" fill="#231f20" stroke="#231f20" stroke-width="0.30">Fra-1</text>
<text x="206.5" y="416.8" font-size="12.39" textLength="25.5" lengthAdjust="spacingAndGlyphs" fill="#231f20" stroke="#231f20" stroke-width="0.30">c-Jun</text>
<path d="M76.5,483.3 L76.50,443.30 A40,40 0 0 1 107.32,508.80 Z" fill="#4a7ebb"/>
<path d="M76.5,483.3 L107.32,508.80 A40,40 0 0 1 36.58,485.81 Z" fill="#be4b48"/>
<path d="M76.5,483.3 L36.58,485.81 A40,40 0 0 1 42.73,461.87 Z" fill="#98b954"/>
<path d="M76.5,483.3 L42.73,461.87 A40,40 0 0 1 47.34,455.92 Z" fill="#7d60a0"/>
<path d="M76.5,483.3 L47.34,455.92 A40,40 0 0 1 49.12,454.14 Z" fill="#46aac5"/>
<path d="M76.5,483.3 L49.12,454.14 A40,40 0 0 1 76.50,443.30 Z" fill="#f79646"/>
<path d="M217.3,483.4 L217.30,443.40 A40,40 0 0 1 253.49,500.43 Z" fill="#4a7ebb"/>
<path d="M217.3,483.4 L253.49,500.43 A40,40 0 0 1 181.11,500.43 Z" fill="#be4b48"/>
<path d="M217.3,483.4 L181.11,500.43 A40,40 0 0 1 184.94,459.89 Z" fill="#98b954"/>
<path d="M217.3,483.4 L184.94,459.89 A40,40 0 0 1 188.14,456.02 Z" fill="#7d60a0"/>
<path d="M217.3,483.4 L188.14,456.02 A40,40 0 0 1 189.92,454.24 Z" fill="#46aac5"/>
<path d="M217.3,483.4 L189.92,454.24 A40,40 0 0 1 217.30,443.40 Z" fill="#f79646"/>
<text x="118" y="466.6" font-size="9.66" textLength="18" lengthAdjust="spacingAndGlyphs" fill="#231f20" stroke="#231f20" stroke-width="0.30">36%</text>
<text x="40.8" y="533.9" font-size="9.66" textLength="18" lengthAdjust="spacingAndGlyphs" fill="#231f20" stroke="#231f20" stroke-width="0.30">38%</text>
<text x="17.3" y="475.6" font-size="9.66" textLength="18" lengthAdjust="spacingAndGlyphs" fill="#231f20" stroke="#231f20" stroke-width="0.30">10%</text>
<text x="24" y="459.2" font-size="9.66" textLength="12" lengthAdjust="spacingAndGlyphs" fill="#231f20" stroke="#231f20" stroke-width="0.30">3%</text>
<text x="30.5" y="448" font-size="9.66" textLength="12" lengthAdjust="spacingAndGlyphs" fill="#231f20" stroke="#231f20" stroke-width="0.30">1%</text>
<text x="50" y="440" font-size="9.66" textLength="18" lengthAdjust="spacingAndGlyphs" fill="#231f20" stroke="#231f20" stroke-width="0.30">12%</text>
<text x="256" y="462.3" font-size="9.66" textLength="18" lengthAdjust="spacingAndGlyphs" fill="#231f20" stroke="#231f20" stroke-width="0.30">32%</text>
<text x="205.4" y="536" font-size="9.66" textLength="18" lengthAdjust="spacingAndGlyphs" fill="#231f20" stroke="#231f20" stroke-width="0.30">36%</text>
<text x="157" y="483" font-size="9.66" textLength="18" lengthAdjust="spacingAndGlyphs" fill="#231f20" stroke="#231f20" stroke-width="0.30">17%</text>
<text x="167.3" y="458.8" font-size="9.66" textLength="12" lengthAdjust="spacingAndGlyphs" fill="#231f20" stroke="#231f20" stroke-width="0.30">2%</text>
<text x="175.4" y="448.5" font-size="9.66" textLength="12" lengthAdjust="spacingAndGlyphs" fill="#231f20" stroke="#231f20" stroke-width="0.30">1%</text>
<text x="192.7" y="440.4" font-size="9.66" textLength="18" lengthAdjust="spacingAndGlyphs" fill="#231f20" stroke="#231f20" stroke-width="0.30">12%</text>
<rect x="58.0" y="539.3" width="4.2" height="4.2" fill="#4a7ebb"/>
<text x="63.9" y="546.6999999999999" font-size="9.77" textLength="32.4" lengthAdjust="spacingAndGlyphs" fill="#231f20" stroke="#231f20" stroke-width="0.30">Intronic</text>
<rect x="58.0" y="553" width="4.2" height="4.2" fill="#be4b48"/>
<text x="63.9" y="560.4" font-size="9.77" textLength="41.9" lengthAdjust="spacingAndGlyphs" fill="#231f20" stroke="#231f20" stroke-width="0.30">Intergenic</text>
<rect x="117.7" y="539.3" width="4.2" height="4.2" fill="#98b954"/>
<text x="123.6" y="546.6999999999999" font-size="9.77" textLength="46" lengthAdjust="spacingAndGlyphs" fill="#231f20" stroke="#231f20" stroke-width="0.30">5' (+/-5 kb)</text>
<rect x="117.7" y="553" width="4.2" height="4.2" fill="#7d60a0"/>
<text x="123.6" y="560.4" font-size="9.77" textLength="46" lengthAdjust="spacingAndGlyphs" fill="#231f20" stroke="#231f20" stroke-width="0.30">3' (+/-5 kb)</text>
<rect x="186.7" y="539.3" width="4.2" height="4.2" fill="#46aac5"/>
<text x="192.6" y="546.6999999999999" font-size="9.77" textLength="29.6" lengthAdjust="spacingAndGlyphs" fill="#231f20" stroke="#231f20" stroke-width="0.30">Exonic</text>
<rect x="186.7" y="553" width="4.2" height="4.2" fill="#f79646"/>
<text x="192.6" y="560.4" font-size="9.77" textLength="63.5" lengthAdjust="spacingAndGlyphs" fill="#231f20" stroke="#231f20" stroke-width="0.30">Distal (5-25 kb)</text>
<text x="294.0" y="395.3" font-size="17.5" font-weight="bold" fill="#000" stroke="#000" stroke-width="0.30">E</text>
<text x="338" y="392.5" font-size="11.87" textLength="139.3" lengthAdjust="spacingAndGlyphs" fill="#231f20" stroke="#231f20" stroke-width="0.30">Proximity to target gene TSS</text>
<g transform="translate(299.2,467) rotate(-90)">
<text x="0" y="0" font-size="9.66" text-anchor="middle" textLength="31.4" lengthAdjust="spacingAndGlyphs" fill="#231f20" stroke="#231f20" stroke-width="0.30">Density</text>
</g>
<line x1="335.3" y1="423" x2="337.8" y2="423" stroke="#231f20" stroke-width="0.9"/>
<text x="336" y="426" font-size="9.03" text-anchor="end" textLength="24.6" lengthAdjust="spacingAndGlyphs" fill="#231f20" stroke="#231f20" stroke-width="0.30">6e-05</text>
<line x1="335.3" y1="454.3" x2="337.8" y2="454.3" stroke="#231f20" stroke-width="0.9"/>
<text x="336" y="457.3" font-size="9.03" text-anchor="end" textLength="24.6" lengthAdjust="spacingAndGlyphs" fill="#231f20" stroke="#231f20" stroke-width="0.30">4e-05</text>
<line x1="335.3" y1="486" x2="337.8" y2="486" stroke="#231f20" stroke-width="0.9"/>
<text x="336" y="489" font-size="9.03" text-anchor="end" textLength="24.6" lengthAdjust="spacingAndGlyphs" fill="#231f20" stroke="#231f20" stroke-width="0.30">2e-05</text>
<line x1="335.3" y1="517" x2="337.8" y2="517" stroke="#231f20" stroke-width="0.9"/>
<text x="336" y="520" font-size="9.03" text-anchor="end" textLength="26.5" lengthAdjust="spacingAndGlyphs" fill="#231f20" stroke="#231f20" stroke-width="0.30">0e+00</text>
<line x1="356.5" y1="524.4" x2="356.5" y2="527.1999999999999" stroke="#231f20" stroke-width="0.9"/>
<g transform="translate(359.7,531.0) rotate(-45)">
<text x="0" y="0" font-size="10.08" text-anchor="end" textLength="28.5" lengthAdjust="spacingAndGlyphs" fill="#231f20" stroke="#231f20" stroke-width="0.30">–20 kb</text>
</g>
<line x1="381.9" y1="524.4" x2="381.9" y2="527.1999999999999" stroke="#231f20" stroke-width="0.9"/>
<g transform="translate(385.09999999999997,531.0) rotate(-45)">
<text x="0" y="0" font-size="10.08" text-anchor="end" textLength="28.5" lengthAdjust="spacingAndGlyphs" fill="#231f20" stroke="#231f20" stroke-width="0.30">–10 kb</text>
</g>
<line x1="407.1" y1="524.4" x2="407.1" y2="527.1999999999999" stroke="#231f20" stroke-width="0.9"/>
<g transform="translate(410.3,531.0) rotate(-45)">
<text x="0" y="0" font-size="10.08" text-anchor="end" textLength="5.5" lengthAdjust="spacingAndGlyphs" fill="#231f20" stroke="#231f20" stroke-width="0.30">0</text>
</g>
<line x1="432.6" y1="524.4" x2="432.6" y2="527.1999999999999" stroke="#231f20" stroke-width="0.9"/>
<g transform="translate(435.8,531.0) rotate(-45)">
<text x="0" y="0" font-size="10.08" text-anchor="end" textLength="25" lengthAdjust="spacingAndGlyphs" fill="#231f20" stroke="#231f20" stroke-width="0.30">10 kb</text>
</g>
<line x1="458.2" y1="524.4" x2="458.2" y2="527.1999999999999" stroke="#231f20" stroke-width="0.9"/>
<g transform="translate(461.4,531.0) rotate(-45)">
<text x="0" y="0" font-size="10.08" text-anchor="end" textLength="25" lengthAdjust="spacingAndGlyphs" fill="#231f20" stroke="#231f20" stroke-width="0.30">20 kb</text>
</g>
<text x="371.5" y="563.6" font-size="10.08" textLength="73.9" lengthAdjust="spacingAndGlyphs" fill="#231f20" stroke="#231f20" stroke-width="0.30">Distance from TSS</text>
<path d="M344.8,508.8 C345.50,507.92 347.30,504.80 349,503.5 C350.70,502.20 352.33,501.83 355,501 C357.67,500.17 361.67,499.75 365,498.5 C368.33,497.25 371.67,495.00 375,493.5 C378.33,492.00 382.00,490.92 385,489.5 C388.00,488.08 390.83,487.58 393,485 C395.17,482.42 396.50,479.83 398,474 C399.50,468.17 400.83,459.00 402,450 C403.17,441.00 404.00,427.53 405,420 C406.00,412.47 407.00,404.80 408,404.8 C409.00,404.80 410.00,412.47 411,420 C412.00,427.53 412.83,441.00 414,450 C415.17,459.00 416.50,468.00 418,474 C419.50,480.00 420.67,483.37 423,486 C425.33,488.63 428.33,487.88 432,489.8 C435.67,491.72 440.67,495.63 445,497.5 C449.33,499.37 454.67,499.92 458,501 C461.33,502.08 462.97,502.70 465,504 C467.03,505.30 469.33,508.00 470.2,508.8" fill="none" stroke="#e87b36" stroke-width="2.2" stroke-linejoin="round"/>
<path d="M344.8,508.8 C345.50,507.75 347.30,504.05 349,502.5 C350.70,500.95 352.33,500.42 355,499.5 C357.67,498.58 361.67,498.25 365,497 C368.33,495.75 371.67,493.75 375,492 C378.33,490.25 382.17,488.33 385,486.5 C387.83,484.67 389.83,483.75 392,481 C394.17,478.25 396.17,473.83 398,470 C399.83,466.17 401.33,461.07 403,458 C404.67,454.93 406.33,451.60 408,451.6 C409.67,451.60 411.33,454.93 413,458 C414.67,461.07 416.17,466.17 418,470 C419.83,473.83 421.67,478.17 424,481 C426.33,483.83 428.50,484.83 432,487 C435.50,489.17 440.67,492.00 445,494 C449.33,496.00 454.67,497.58 458,499 C461.33,500.42 462.97,500.87 465,502.5 C467.03,504.13 469.33,507.75 470.2,508.8" fill="none" stroke="#1f2d6b" stroke-width="2.2" stroke-linejoin="round"/>
<rect x="337.8" y="399.8" width="139.3" height="124.59999999999997" fill="none" stroke="#231f20" stroke-width="1"/>
<line x1="342" y1="407" x2="348.8" y2="407" stroke="#1f2d6b" stroke-width="2"/>
<line x1="342" y1="417" x2="348.8" y2="417" stroke="#e87b36" stroke-width="2"/>
<text x="350.8" y="410.3" font-size="9.97" textLength="20.5" lengthAdjust="spacingAndGlyphs" fill="#231f20" stroke="#231f20" stroke-width="0.30">Fra-1</text>
<text x="350.8" y="420.3" font-size="9.97" textLength="22.5" lengthAdjust="spacingAndGlyphs" fill="#231f20" stroke="#231f20" stroke-width="0.30">c-Jun</text>
<text x="17" y="598.8" font-size="17.5" font-weight="bold" fill="#000" stroke="#000" stroke-width="0.30">F</text>
<text x="66.0" y="585.8" font-size="11.87" textLength="201.3" lengthAdjust="spacingAndGlyphs" fill="#231f20" stroke="#231f20" stroke-width="0.30">Enrichment of transcription factor motifs</text>
<line x1="29.25" y1="600" x2="29.25" y2="663.8" stroke="#231f20" stroke-width="1.1"/>
<line x1="275" y1="600" x2="275" y2="665" stroke="#231f20" stroke-width="1.1"/>
<g transform="translate(25.8,632.5) rotate(-90)">
<text x="0" y="0" font-size="9.66" text-anchor="middle" textLength="50" lengthAdjust="spacingAndGlyphs" fill="#231f20" stroke="#231f20" stroke-width="0.30">Fra-1 peaks</text>
</g>
<g transform="translate(272.2,632.5) rotate(-90)">
<text x="0" y="0" font-size="9.66" text-anchor="middle" textLength="47.5" lengthAdjust="spacingAndGlyphs" fill="#231f20" stroke="#231f20" stroke-width="0.30">c-Jun peaks</text>
</g>
<path d="M0.97,0.25 C0.88,0.08 0.72,0 0.52,0 C0.2,0 0.02,0.22 0.02,0.5 C0.02,0.78 0.2,1 0.52,1 C0.76,1 0.97,0.87 0.97,0.62 L0.97,0.55 L0.58,0.55" transform="translate(34.58,604.38) scale(6.933,2.257)" fill="none" stroke="#f2b33d" stroke-width="0.97" vector-effect="non-scaling-stroke" stroke-linejoin="miter" stroke-linecap="butt"/>
<path d="M0,0 L1,0 M0.5,0 L0.5,1" transform="translate(34.58,607.61) scale(6.933,2.257)" fill="none" stroke="#c8242b" stroke-width="0.97" vector-effect="non-scaling-stroke" stroke-linejoin="miter" stroke-linecap="butt"/>
<path d="M0,1 L0.5,0 L1,1 M0.2,0.64 L0.8,0.64" transform="translate(34.68,610.93) scale(6.739,2.709)" fill="none" stroke="#3aa648" stroke-width="1.16" vector-effect="non-scaling-stroke" stroke-linejoin="miter" stroke-linecap="butt"/>
<path d="M0.98,0.27 C0.89,0.08 0.72,0 0.52,0 C0.2,0 0.02,0.22 0.02,0.5 C0.02,0.78 0.2,1 0.52,1 C0.72,1 0.89,0.92 0.98,0.73" transform="translate(34.49,614.61) scale(7.126,1.806)" fill="none" stroke="#2a3593" stroke-width="0.77" vector-effect="non-scaling-stroke" stroke-linejoin="miter" stroke-linecap="butt"/>
<path d="M0,1 L0.5,0 L1,1 M0.2,0.64 L0.8,0.64" transform="translate(43.40,604.70) scale(6.300,4.850)" fill="none" stroke="#3aa648" stroke-width="1.60" vector-effect="non-scaling-stroke" stroke-linejoin="miter" stroke-linecap="butt"/>
<path d="M0,0 L1,0 M0.5,0 L0.5,1" transform="translate(43.08,610.83) scale(6.933,2.257)" fill="none" stroke="#c8242b" stroke-width="0.97" vector-effect="non-scaling-stroke" stroke-linejoin="miter" stroke-linecap="butt"/>
<path d="M0.98,0.27 C0.89,0.08 0.72,0 0.52,0 C0.2,0 0.02,0.22 0.02,0.5 C0.02,0.78 0.2,1 0.52,1 C0.72,1 0.89,0.92 0.98,0.73" transform="translate(43.08,614.06) scale(6.933,2.257)" fill="none" stroke="#2a3593" stroke-width="0.97" vector-effect="non-scaling-stroke" stroke-linejoin="miter" stroke-linecap="butt"/>
<path d="M0,1 L0.5,0 L1,1 M0.2,0.64 L0.8,0.64" transform="translate(51.90,604.70) scale(6.300,4.850)" fill="none" stroke="#3aa648" stroke-width="1.60" vector-effect="non-scaling-stroke" stroke-linejoin="miter" stroke-linecap="butt"/>
<path d="M0.97,0.25 C0.88,0.08 0.72,0 0.52,0 C0.2,0 0.02,0.22 0.02,0.5 C0.02,0.78 0.2,1 0.52,1 C0.76,1 0.97,0.87 0.97,0.62 L0.97,0.55 L0.58,0.55" transform="translate(51.68,610.93) scale(6.739,2.709)" fill="none" stroke="#f2b33d" stroke-width="1.16" vector-effect="non-scaling-stroke" stroke-linejoin="miter" stroke-linecap="butt"/>
<path d="M0.98,0.27 C0.89,0.08 0.72,0 0.52,0 C0.2,0 0.02,0.22 0.02,0.5 C0.02,0.78 0.2,1 0.52,1 C0.72,1 0.89,0.92 0.98,0.73" transform="translate(51.49,614.61) scale(7.126,1.806)" fill="none" stroke="#2a3593" stroke-width="0.77" vector-effect="non-scaling-stroke" stroke-linejoin="miter" stroke-linecap="butt"/>
<path d="M0,0 L1,0 M0.5,0 L0.5,1" transform="translate(60.40,604.70) scale(6.300,11.300)" fill="none" stroke="#c8242b" stroke-width="1.60" vector-effect="non-scaling-stroke" stroke-linejoin="miter" stroke-linecap="butt"/>
<path d="M0.97,0.25 C0.88,0.08 0.72,0 0.52,0 C0.2,0 0.02,0.22 0.02,0.5 C0.02,0.78 0.2,1 0.52,1 C0.76,1 0.97,0.87 0.97,0.62 L0.97,0.55 L0.58,0.55" transform="translate(68.90,604.70) scale(6.300,11.300)" fill="none" stroke="#f2b33d" stroke-width="1.60" vector-effect="non-scaling-stroke" stroke-linejoin="miter" stroke-linecap="butt"/>
<path d="M0,1 L0.5,0 L1,1 M0.2,0.64 L0.8,0.64" transform="translate(77.40,604.70) scale(6.300,11.300)" fill="none" stroke="#3aa648" stroke-width="1.60" vector-effect="non-scaling-stroke" stroke-linejoin="miter" stroke-linecap="butt"/>
<path d="M0.98,0.27 C0.89,0.08 0.72,0 0.52,0 C0.2,0 0.02,0.22 0.02,0.5 C0.02,0.78 0.2,1 0.52,1 C0.72,1 0.89,0.92 0.98,0.73" transform="translate(85.90,604.70) scale(6.300,5.495)" fill="none" stroke="#2a3593" stroke-width="1.60" vector-effect="non-scaling-stroke" stroke-linejoin="miter" stroke-linecap="butt"/>
<path d="M0.97,0.25 C0.88,0.08 0.72,0 0.52,0 C0.2,0 0.02,0.22 0.02,0.5 C0.02,0.78 0.2,1 0.52,1 C0.76,1 0.97,0.87 0.97,0.62 L0.97,0.55 L0.58,0.55" transform="translate(85.90,611.79) scale(6.300,4.205)" fill="none" stroke="#f2b33d" stroke-width="1.60" vector-effect="non-scaling-stroke" stroke-linejoin="miter" stroke-linecap="butt"/>
<path d="M0,0 L1,0 M0.5,0 L0.5,1" transform="translate(94.40,604.70) scale(6.300,11.300)" fill="none" stroke="#c8242b" stroke-width="1.60" vector-effect="non-scaling-stroke" stroke-linejoin="miter" stroke-linecap="butt"/>
<path d="M0.98,0.27 C0.89,0.08 0.72,0 0.52,0 C0.2,0 0.02,0.22 0.02,0.5 C0.02,0.78 0.2,1 0.52,1 C0.72,1 0.89,0.92 0.98,0.73" transform="translate(102.90,604.70) scale(6.300,11.300)" fill="none" stroke="#2a3593" stroke-width="1.60" vector-effect="non-scaling-stroke" stroke-linejoin="miter" stroke-linecap="butt"/>
<path d="M0,1 L0.5,0 L1,1 M0.2,0.64 L0.8,0.64" transform="translate(111.40,604.70) scale(6.300,11.300)" fill="none" stroke="#3aa648" stroke-width="1.60" vector-effect="non-scaling-stroke" stroke-linejoin="miter" stroke-linecap="butt"/>
<path d="M0,0 L1,0 M0.5,0 L0.5,1" transform="translate(119.78,604.58) scale(6.546,3.160)" fill="none" stroke="#c8242b" stroke-width="1.35" vector-effect="non-scaling-stroke" stroke-linejoin="miter" stroke-linecap="butt"/>
<path d="M0.98,0.27 C0.89,0.08 0.72,0 0.52,0 C0.2,0 0.02,0.22 0.02,0.5 C0.02,0.78 0.2,1 0.52,1 C0.72,1 0.89,0.92 0.98,0.73" transform="translate(119.68,609.00) scale(6.739,2.709)" fill="none" stroke="#2a3593" stroke-width="1.16" vector-effect="non-scaling-stroke" stroke-linejoin="miter" stroke-linecap="butt"/>
<path d="M0,1 L0.5,0 L1,1 M0.2,0.64 L0.8,0.64" transform="translate(119.78,612.96) scale(6.546,3.160)" fill="none" stroke="#3aa648" stroke-width="1.35" vector-effect="non-scaling-stroke" stroke-linejoin="miter" stroke-linecap="butt"/>
<path d="M0.98,0.27 C0.89,0.08 0.72,0 0.52,0 C0.2,0 0.02,0.22 0.02,0.5 C0.02,0.78 0.2,1 0.52,1 C0.72,1 0.89,0.92 0.98,0.73" transform="translate(128.37,604.67) scale(6.352,3.612)" fill="none" stroke="#2a3593" stroke-width="1.55" vector-effect="non-scaling-stroke" stroke-linejoin="miter" stroke-linecap="butt"/>
<path d="M0,0 L1,0 M0.5,0 L0.5,1" transform="translate(128.18,609.64) scale(6.739,2.709)" fill="none" stroke="#c8242b" stroke-width="1.16" vector-effect="non-scaling-stroke" stroke-linejoin="miter" stroke-linecap="butt"/>
<path d="M0,1 L0.5,0 L1,1 M0.2,0.64 L0.8,0.64" transform="translate(128.18,613.51) scale(6.739,2.709)" fill="none" stroke="#3aa648" stroke-width="1.16" vector-effect="non-scaling-stroke" stroke-linejoin="miter" stroke-linecap="butt"/>
<path d="M0,1 L0.5,0 L1,1 M0.2,0.64 L0.8,0.64" transform="translate(36.20,625.20) scale(6.955,6.000)" fill="none" stroke="#3aa648" stroke-width="1.60" vector-effect="non-scaling-stroke" stroke-linejoin="miter" stroke-linecap="butt"/>
<path d="M0.97,0.25 C0.88,0.08 0.72,0 0.52,0 C0.2,0 0.02,0.22 0.02,0.5 C0.02,0.78 0.2,1 0.52,1 C0.76,1 0.97,0.87 0.97,0.62 L0.97,0.55 L0.58,0.55" transform="translate(36.20,632.80) scale(6.955,6.000)" fill="none" stroke="#f2b33d" stroke-width="1.60" vector-effect="non-scaling-stroke" stroke-linejoin="miter" stroke-linecap="butt"/>
<path d="M0.98,0.27 C0.89,0.08 0.72,0 0.52,0 C0.2,0 0.02,0.22 0.02,0.5 C0.02,0.78 0.2,1 0.52,1 C0.72,1 0.89,0.92 0.98,0.73" transform="translate(45.35,625.20) scale(6.955,6.000)" fill="none" stroke="#2a3593" stroke-width="1.60" vector-effect="non-scaling-stroke" stroke-linejoin="miter" stroke-linecap="butt"/>
<path d="M0,1 L0.5,0 L1,1 M0.2,0.64 L0.8,0.64" transform="translate(45.35,632.80) scale(6.955,6.000)" fill="none" stroke="#3aa648" stroke-width="1.60" vector-effect="non-scaling-stroke" stroke-linejoin="miter" stroke-linecap="butt"/>
<path d="M0,1 L0.5,0 L1,1 M0.2,0.64 L0.8,0.64" transform="translate(54.51,625.20) scale(6.955,13.600)" fill="none" stroke="#3aa648" stroke-width="1.60" vector-effect="non-scaling-stroke" stroke-linejoin="miter" stroke-linecap="butt"/>
<path d="M0,0 L1,0 M0.5,0 L0.5,1" transform="translate(63.66,625.20) scale(6.955,13.600)" fill="none" stroke="#c8242b" stroke-width="1.60" vector-effect="non-scaling-stroke" stroke-linejoin="miter" stroke-linecap="butt"/>
<path d="M0,0 L1,0 M0.5,0 L0.5,1" transform="translate(72.82,625.20) scale(6.955,13.600)" fill="none" stroke="#c8242b" stroke-width="1.60" vector-effect="non-scaling-stroke" stroke-linejoin="miter" stroke-linecap="butt"/>
<path d="M0.98,0.27 C0.89,0.08 0.72,0 0.52,0 C0.2,0 0.02,0.22 0.02,0.5 C0.02,0.78 0.2,1 0.52,1 C0.72,1 0.89,0.92 0.98,0.73" transform="translate(81.97,625.20) scale(6.955,13.600)" fill="none" stroke="#2a3593" stroke-width="1.60" vector-effect="non-scaling-stroke" stroke-linejoin="miter" stroke-linecap="butt"/>
<path d="M0.98,0.27 C0.89,0.08 0.72,0 0.52,0 C0.2,0 0.02,0.22 0.02,0.5 C0.02,0.78 0.2,1 0.52,1 C0.72,1 0.89,0.92 0.98,0.73" transform="translate(91.13,625.20) scale(6.955,9.800)" fill="none" stroke="#2a3593" stroke-width="1.60" vector-effect="non-scaling-stroke" stroke-linejoin="miter" stroke-linecap="butt"/>
<path d="M0,0 L1,0 M0.5,0 L0.5,1" transform="translate(90.90,636.37) scale(7.415,2.660)" fill="none" stroke="#c8242b" stroke-width="1.14" vector-effect="non-scaling-stroke" stroke-linejoin="miter" stroke-linecap="butt"/>
<path d="M0,0 L1,0 M0.5,0 L0.5,1" transform="translate(100.28,625.20) scale(6.955,7.520)" fill="none" stroke="#c8242b" stroke-width="1.60" vector-effect="non-scaling-stroke" stroke-linejoin="miter" stroke-linecap="butt"/>
<path d="M0,1 L0.5,0 L1,1 M0.2,0.64 L0.8,0.64" transform="translate(100.28,634.32) scale(6.955,4.480)" fill="none" stroke="#3aa648" stroke-width="1.60" vector-effect="non-scaling-stroke" stroke-linejoin="miter" stroke-linecap="butt"/>
<path d="M0.97,0.25 C0.88,0.08 0.72,0 0.52,0 C0.2,0 0.02,0.22 0.02,0.5 C0.02,0.78 0.2,1 0.52,1 C0.76,1 0.97,0.87 0.97,0.62 L0.97,0.55 L0.58,0.55" transform="translate(109.43,625.20) scale(6.959,3.724)" fill="none" stroke="#f2b33d" stroke-width="1.60" vector-effect="non-scaling-stroke" stroke-linejoin="miter" stroke-linecap="butt"/>
<path d="M0,0 L1,0 M0.5,0 L0.5,1" transform="translate(109.32,630.40) scale(7.187,3.192)" fill="none" stroke="#c8242b" stroke-width="1.37" vector-effect="non-scaling-stroke" stroke-linejoin="miter" stroke-linecap="butt"/>
<path d="M0,1 L0.5,0 L1,1 M0.2,0.64 L0.8,0.64" transform="translate(109.43,635.08) scale(6.959,3.724)" fill="none" stroke="#3aa648" stroke-width="1.60" vector-effect="non-scaling-stroke" stroke-linejoin="miter" stroke-linecap="butt"/>
<path d="M0.98,0.27 C0.89,0.08 0.72,0 0.52,0 C0.2,0 0.02,0.22 0.02,0.5 C0.02,0.78 0.2,1 0.52,1 C0.72,1 0.89,0.92 0.98,0.73" transform="translate(118.59,625.20) scale(6.959,3.724)" fill="none" stroke="#2a3593" stroke-width="1.60" vector-effect="non-scaling-stroke" stroke-linejoin="miter" stroke-linecap="butt"/>
<path d="M0,0 L1,0 M0.5,0 L0.5,1" transform="translate(118.47,630.40) scale(7.187,3.192)" fill="none" stroke="#c8242b" stroke-width="1.37" vector-effect="non-scaling-stroke" stroke-linejoin="miter" stroke-linecap="butt"/>
<path d="M0,1 L0.5,0 L1,1 M0.2,0.64 L0.8,0.64" transform="translate(118.59,635.08) scale(6.959,3.724)" fill="none" stroke="#3aa648" stroke-width="1.60" vector-effect="non-scaling-stroke" stroke-linejoin="miter" stroke-linecap="butt"/>
<path d="M0.98,0.27 C0.89,0.08 0.72,0 0.52,0 C0.2,0 0.02,0.22 0.02,0.5 C0.02,0.78 0.2,1 0.52,1 C0.72,1 0.89,0.92 0.98,0.73" transform="translate(127.75,625.20) scale(6.955,4.480)" fill="none" stroke="#2a3593" stroke-width="1.60" vector-effect="non-scaling-stroke" stroke-linejoin="miter" stroke-linecap="butt"/>
<path d="M0.97,0.25 C0.88,0.08 0.72,0 0.52,0 C0.2,0 0.02,0.22 0.02,0.5 C0.02,0.78 0.2,1 0.52,1 C0.76,1 0.97,0.87 0.97,0.62 L0.97,0.55 L0.58,0.55" transform="translate(127.63,631.16) scale(7.187,3.192)" fill="none" stroke="#f2b33d" stroke-width="1.37" vector-effect="non-scaling-stroke" stroke-linejoin="miter" stroke-linecap="butt"/>
<path d="M0,1 L0.5,0 L1,1 M0.2,0.64 L0.8,0.64" transform="translate(127.63,635.72) scale(7.187,3.192)" fill="none" stroke="#3aa648" stroke-width="1.37" vector-effect="non-scaling-stroke" stroke-linejoin="miter" stroke-linecap="butt"/>
<path d="M0,0 L1,0 M0.5,0 L0.5,1" transform="translate(36.20,647.00) scale(6.955,10.100)" fill="none" stroke="#c8242b" stroke-width="1.60" vector-effect="non-scaling-stroke" stroke-linejoin="miter" stroke-linecap="butt"/>
<path d="M0,1 L0.5,0 L1,1 M0.2,0.64 L0.8,0.64" transform="translate(35.98,658.49) scale(7.385,2.730)" fill="none" stroke="#3aa648" stroke-width="1.17" vector-effect="non-scaling-stroke" stroke-linejoin="miter" stroke-linecap="butt"/>
<path d="M0.97,0.25 C0.88,0.08 0.72,0 0.52,0 C0.2,0 0.02,0.22 0.02,0.5 C0.02,0.78 0.2,1 0.52,1 C0.76,1 0.97,0.87 0.97,0.62 L0.97,0.55 L0.58,0.55" transform="translate(45.35,647.00) scale(6.955,14.000)" fill="none" stroke="#f2b33d" stroke-width="1.60" vector-effect="non-scaling-stroke" stroke-linejoin="miter" stroke-linecap="butt"/>
<path d="M0.98,0.27 C0.89,0.08 0.72,0 0.52,0 C0.2,0 0.02,0.22 0.02,0.5 C0.02,0.78 0.2,1 0.52,1 C0.72,1 0.89,0.92 0.98,0.73" transform="translate(54.51,647.00) scale(6.955,14.000)" fill="none" stroke="#2a3593" stroke-width="1.60" vector-effect="non-scaling-stroke" stroke-linejoin="miter" stroke-linecap="butt"/>
<path d="M0.98,0.27 C0.89,0.08 0.72,0 0.52,0 C0.2,0 0.02,0.22 0.02,0.5 C0.02,0.78 0.2,1 0.52,1 C0.72,1 0.89,0.92 0.98,0.73" transform="translate(63.66,647.00) scale(6.955,14.000)" fill="none" stroke="#2a3593" stroke-width="1.60" vector-effect="non-scaling-stroke" stroke-linejoin="miter" stroke-linecap="butt"/>
<path d="M0,1 L0.5,0 L1,1 M0.2,0.64 L0.8,0.64" transform="translate(72.82,647.00) scale(6.955,14.000)" fill="none" stroke="#3aa648" stroke-width="1.60" vector-effect="non-scaling-stroke" stroke-linejoin="miter" stroke-linecap="butt"/>
<path d="M0,1 L0.5,0 L1,1 M0.2,0.64 L0.8,0.64" transform="translate(81.97,647.00) scale(6.955,14.000)" fill="none" stroke="#3aa648" stroke-width="1.60" vector-effect="non-scaling-stroke" stroke-linejoin="miter" stroke-linecap="butt"/>
<path d="M0,1 L0.5,0 L1,1 M0.2,0.64 L0.8,0.64" transform="translate(91.13,647.00) scale(6.955,4.640)" fill="none" stroke="#3aa648" stroke-width="1.60" vector-effect="non-scaling-stroke" stroke-linejoin="miter" stroke-linecap="butt"/>
<path d="M0.97,0.25 C0.88,0.08 0.72,0 0.52,0 C0.2,0 0.02,0.22 0.02,0.5 C0.02,0.78 0.2,1 0.52,1 C0.76,1 0.97,0.87 0.97,0.62 L0.97,0.55 L0.58,0.55" transform="translate(90.91,653.03) scale(7.385,2.730)" fill="none" stroke="#f2b33d" stroke-width="1.17" vector-effect="non-scaling-stroke" stroke-linejoin="miter" stroke-linecap="butt"/>
<path d="M0.98,0.27 C0.89,0.08 0.72,0 0.52,0 C0.2,0 0.02,0.22 0.02,0.5 C0.02,0.78 0.2,1 0.52,1 C0.72,1 0.89,0.92 0.98,0.73" transform="translate(90.80,656.81) scale(7.619,2.184)" fill="none" stroke="#2a3593" stroke-width="0.94" vector-effect="non-scaling-stroke" stroke-linejoin="miter" stroke-linecap="butt"/>
<path d="M0,0 L1,0 M0.5,0 L0.5,1" transform="translate(90.68,659.81) scale(7.853,1.638)" fill="none" stroke="#c8242b" stroke-width="0.70" vector-effect="non-scaling-stroke" stroke-linejoin="miter" stroke-linecap="butt"/>
<path d="M0,1 L0.5,0 L1,1 M0.2,0.64 L0.8,0.64" transform="translate(100.28,647.00) scale(6.955,4.640)" fill="none" stroke="#3aa648" stroke-width="1.60" vector-effect="non-scaling-stroke" stroke-linejoin="miter" stroke-linecap="butt"/>
<path d="M0.97,0.25 C0.88,0.08 0.72,0 0.52,0 C0.2,0 0.02,0.22 0.02,0.5 C0.02,0.78 0.2,1 0.52,1 C0.76,1 0.97,0.87 0.97,0.62 L0.97,0.55 L0.58,0.55" transform="translate(100.07,653.03) scale(7.385,2.730)" fill="none" stroke="#f2b33d" stroke-width="1.17" vector-effect="non-scaling-stroke" stroke-linejoin="miter" stroke-linecap="butt"/>
<path d="M0.98,0.27 C0.89,0.08 0.72,0 0.52,0 C0.2,0 0.02,0.22 0.02,0.5 C0.02,0.78 0.2,1 0.52,1 C0.72,1 0.89,0.92 0.98,0.73" transform="translate(99.95,656.81) scale(7.619,2.184)" fill="none" stroke="#2a3593" stroke-width="0.94" vector-effect="non-scaling-stroke" stroke-linejoin="miter" stroke-linecap="butt"/>
<path d="M0,0 L1,0 M0.5,0 L0.5,1" transform="translate(99.83,659.81) scale(7.853,1.638)" fill="none" stroke="#c8242b" stroke-width="0.70" vector-effect="non-scaling-stroke" stroke-linejoin="miter" stroke-linecap="butt"/>
<path d="M0,1 L0.5,0 L1,1 M0.2,0.64 L0.8,0.64" transform="translate(109.44,647.00) scale(6.955,4.640)" fill="none" stroke="#3aa648" stroke-width="1.60" vector-effect="non-scaling-stroke" stroke-linejoin="miter" stroke-linecap="butt"/>
<path d="M0.97,0.25 C0.88,0.08 0.72,0 0.52,0 C0.2,0 0.02,0.22 0.02,0.5 C0.02,0.78 0.2,1 0.52,1 C0.76,1 0.97,0.87 0.97,0.62 L0.97,0.55 L0.58,0.55" transform="translate(109.22,653.03) scale(7.385,2.730)" fill="none" stroke="#f2b33d" stroke-width="1.17" vector-effect="non-scaling-stroke" stroke-linejoin="miter" stroke-linecap="butt"/>
<path d="M0.98,0.27 C0.89,0.08 0.72,0 0.52,0 C0.2,0 0.02,0.22 0.02,0.5 C0.02,0.78 0.2,1 0.52,1 C0.72,1 0.89,0.92 0.98,0.73" transform="translate(109.10,656.81) scale(7.619,2.184)" fill="none" stroke="#2a3593" stroke-width="0.94" vector-effect="non-scaling-stroke" stroke-linejoin="miter" stroke-linecap="butt"/>
<path d="M0,0 L1,0 M0.5,0 L0.5,1" transform="translate(108.99,659.81) scale(7.853,1.638)" fill="none" stroke="#c8242b" stroke-width="0.70" vector-effect="non-scaling-stroke" stroke-linejoin="miter" stroke-linecap="butt"/>
<path d="M0,1 L0.5,0 L1,1 M0.2,0.64 L0.8,0.64" transform="translate(118.59,647.00) scale(6.955,4.640)" fill="none" stroke="#3aa648" stroke-width="1.60" vector-effect="non-scaling-stroke" stroke-linejoin="miter" stroke-linecap="butt"/>
<path d="M0.97,0.25 C0.88,0.08 0.72,0 0.52,0 C0.2,0 0.02,0.22 0.02,0.5 C0.02,0.78 0.2,1 0.52,1 C0.76,1 0.97,0.87 0.97,0.62 L0.97,0.55 L0.58,0.55" transform="translate(118.38,653.03) scale(7.385,2.730)" fill="none" stroke="#f2b33d" stroke-width="1.17" vector-effect="non-scaling-stroke" stroke-linejoin="miter" stroke-linecap="butt"/>
<path d="M0.98,0.27 C0.89,0.08 0.72,0 0.52,0 C0.2,0 0.02,0.22 0.02,0.5 C0.02,0.78 0.2,1 0.52,1 C0.72,1 0.89,0.92 0.98,0.73" transform="translate(118.26,656.81) scale(7.619,2.184)" fill="none" stroke="#2a3593" stroke-width="0.94" vector-effect="non-scaling-stroke" stroke-linejoin="miter" stroke-linecap="butt"/>
<path d="M0,0 L1,0 M0.5,0 L0.5,1" transform="translate(118.14,659.81) scale(7.853,1.638)" fill="none" stroke="#c8242b" stroke-width="0.70" vector-effect="non-scaling-stroke" stroke-linejoin="miter" stroke-linecap="butt"/>
<path d="M0,1 L0.5,0 L1,1 M0.2,0.64 L0.8,0.64" transform="translate(127.75,647.00) scale(6.955,4.640)" fill="none" stroke="#3aa648" stroke-width="1.60" vector-effect="non-scaling-stroke" stroke-linejoin="miter" stroke-linecap="butt"/>
<path d="M0.97,0.25 C0.88,0.08 0.72,0 0.52,0 C0.2,0 0.02,0.22 0.02,0.5 C0.02,0.78 0.2,1 0.52,1 C0.76,1 0.97,0.87 0.97,0.62 L0.97,0.55 L0.58,0.55" transform="translate(127.53,653.03) scale(7.385,2.730)" fill="none" stroke="#f2b33d" stroke-width="1.17" vector-effect="non-scaling-stroke" stroke-linejoin="miter" stroke-linecap="butt"/>
<path d="M0.98,0.27 C0.89,0.08 0.72,0 0.52,0 C0.2,0 0.02,0.22 0.02,0.5 C0.02,0.78 0.2,1 0.52,1 C0.72,1 0.89,0.92 0.98,0.73" transform="translate(127.41,656.81) scale(7.619,2.184)" fill="none" stroke="#2a3593" stroke-width="0.94" vector-effect="non-scaling-stroke" stroke-linejoin="miter" stroke-linecap="butt"/>
<path d="M0,0 L1,0 M0.5,0 L0.5,1" transform="translate(127.30,659.81) scale(7.853,1.638)" fill="none" stroke="#c8242b" stroke-width="0.70" vector-effect="non-scaling-stroke" stroke-linejoin="miter" stroke-linecap="butt"/>
<path d="M0,1 L0.5,0 L1,1 M0.2,0.64 L0.8,0.64" transform="translate(282.30,603.20) scale(7.950,10.160)" fill="none" stroke="#3aa648" stroke-width="1.60" vector-effect="non-scaling-stroke" stroke-linejoin="miter" stroke-linecap="butt"/>
<path d="M0.98,0.27 C0.89,0.08 0.72,0 0.52,0 C0.2,0 0.02,0.22 0.02,0.5 C0.02,0.78 0.2,1 0.52,1 C0.72,1 0.89,0.92 0.98,0.73" transform="translate(281.75,614.41) scale(9.046,1.176)" fill="none" stroke="#2a3593" stroke-width="0.50" vector-effect="non-scaling-stroke" stroke-linejoin="miter" stroke-linecap="butt"/>
<path d="M0.97,0.25 C0.88,0.08 0.72,0 0.52,0 C0.2,0 0.02,0.22 0.02,0.5 C0.02,0.78 0.2,1 0.52,1 C0.76,1 0.97,0.87 0.97,0.62 L0.97,0.55 L0.58,0.55" transform="translate(281.75,616.09) scale(9.046,1.176)" fill="none" stroke="#f2b33d" stroke-width="0.50" vector-effect="non-scaling-stroke" stroke-linejoin="miter" stroke-linecap="butt"/>
<path d="M0,0 L1,0 M0.5,0 L0.5,1" transform="translate(281.75,617.77) scale(9.046,1.176)" fill="none" stroke="#c8242b" stroke-width="0.50" vector-effect="non-scaling-stroke" stroke-linejoin="miter" stroke-linecap="butt"/>
<path d="M0,0 L1,0 M0.5,0 L0.5,1" transform="translate(292.45,603.20) scale(7.950,15.200)" fill="none" stroke="#c8242b" stroke-width="1.60" vector-effect="non-scaling-stroke" stroke-linejoin="miter" stroke-linecap="butt"/>
<path d="M0.97,0.25 C0.88,0.08 0.72,0 0.52,0 C0.2,0 0.02,0.22 0.02,0.5 C0.02,0.78 0.2,1 0.52,1 C0.76,1 0.97,0.87 0.97,0.62 L0.97,0.55 L0.58,0.55" transform="translate(302.60,603.20) scale(7.950,15.200)" fill="none" stroke="#f2b33d" stroke-width="1.60" vector-effect="non-scaling-stroke" stroke-linejoin="miter" stroke-linecap="butt"/>
<path d="M0,1 L0.5,0 L1,1 M0.2,0.64 L0.8,0.64" transform="translate(312.75,603.20) scale(7.950,15.200)" fill="none" stroke="#3aa648" stroke-width="1.60" vector-effect="non-scaling-stroke" stroke-linejoin="miter" stroke-linecap="butt"/>
<path d="M0.97,0.25 C0.88,0.08 0.72,0 0.52,0 C0.2,0 0.02,0.22 0.02,0.5 C0.02,0.78 0.2,1 0.52,1 C0.76,1 0.97,0.87 0.97,0.62 L0.97,0.55 L0.58,0.55" transform="translate(322.90,603.20) scale(7.950,5.960)" fill="none" stroke="#f2b33d" stroke-width="1.60" vector-effect="non-scaling-stroke" stroke-linejoin="miter" stroke-linecap="butt"/>
<path d="M0.98,0.27 C0.89,0.08 0.72,0 0.52,0 C0.2,0 0.02,0.22 0.02,0.5 C0.02,0.78 0.2,1 0.52,1 C0.72,1 0.89,0.92 0.98,0.73" transform="translate(322.90,610.76) scale(7.950,4.280)" fill="none" stroke="#2a3593" stroke-width="1.60" vector-effect="non-scaling-stroke" stroke-linejoin="miter" stroke-linecap="butt"/>
<path d="M0,1 L0.5,0 L1,1 M0.2,0.64 L0.8,0.64" transform="translate(322.60,616.34) scale(8.542,2.352)" fill="none" stroke="#3aa648" stroke-width="1.01" vector-effect="non-scaling-stroke" stroke-linejoin="miter" stroke-linecap="butt"/>
<path d="M0,0 L1,0 M0.5,0 L0.5,1" transform="translate(333.05,603.20) scale(7.950,15.200)" fill="none" stroke="#c8242b" stroke-width="1.60" vector-effect="non-scaling-stroke" stroke-linejoin="miter" stroke-linecap="butt"/>
<path d="M0.98,0.27 C0.89,0.08 0.72,0 0.52,0 C0.2,0 0.02,0.22 0.02,0.5 C0.02,0.78 0.2,1 0.52,1 C0.72,1 0.89,0.92 0.98,0.73" transform="translate(343.20,603.20) scale(7.950,15.200)" fill="none" stroke="#2a3593" stroke-width="1.60" vector-effect="non-scaling-stroke" stroke-linejoin="miter" stroke-linecap="butt"/>
<path d="M0,1 L0.5,0 L1,1 M0.2,0.64 L0.8,0.64" transform="translate(353.35,603.20) scale(7.950,15.200)" fill="none" stroke="#3aa648" stroke-width="1.60" vector-effect="non-scaling-stroke" stroke-linejoin="miter" stroke-linecap="butt"/>
<path d="M0,0 L1,0 M0.5,0 L0.5,1" transform="translate(363.50,603.20) scale(7.950,5.120)" fill="none" stroke="#c8242b" stroke-width="1.60" vector-effect="non-scaling-stroke" stroke-linejoin="miter" stroke-linecap="butt"/>
<path d="M0.98,0.27 C0.89,0.08 0.72,0 0.52,0 C0.2,0 0.02,0.22 0.02,0.5 C0.02,0.78 0.2,1 0.52,1 C0.72,1 0.89,0.92 0.98,0.73" transform="translate(363.46,609.88) scale(8.038,3.528)" fill="none" stroke="#2a3593" stroke-width="1.51" vector-effect="non-scaling-stroke" stroke-linejoin="miter" stroke-linecap="butt"/>
<path d="M0.97,0.25 C0.88,0.08 0.72,0 0.52,0 C0.2,0 0.02,0.22 0.02,0.5 C0.02,0.78 0.2,1 0.52,1 C0.76,1 0.97,0.87 0.97,0.62 L0.97,0.55 L0.58,0.55" transform="translate(363.46,614.92) scale(8.038,3.528)" fill="none" stroke="#f2b33d" stroke-width="1.51" vector-effect="non-scaling-stroke" stroke-linejoin="miter" stroke-linecap="butt"/>
<path d="M0.98,0.27 C0.89,0.08 0.72,0 0.52,0 C0.2,0 0.02,0.22 0.02,0.5 C0.02,0.78 0.2,1 0.52,1 C0.72,1 0.89,0.92 0.98,0.73" transform="translate(373.65,603.20) scale(7.950,5.960)" fill="none" stroke="#2a3593" stroke-width="1.60" vector-effect="non-scaling-stroke" stroke-linejoin="miter" stroke-linecap="butt"/>
<path d="M0,1 L0.5,0 L1,1 M0.2,0.64 L0.8,0.64" transform="translate(373.65,610.76) scale(7.950,4.280)" fill="none" stroke="#3aa648" stroke-width="1.60" vector-effect="non-scaling-stroke" stroke-linejoin="miter" stroke-linecap="butt"/>
<path d="M0,0 L1,0 M0.5,0 L0.5,1" transform="translate(373.35,616.34) scale(8.542,2.352)" fill="none" stroke="#c8242b" stroke-width="1.01" vector-effect="non-scaling-stroke" stroke-linejoin="miter" stroke-linecap="butt"/>
<path d="M0,0 L1,0 M0.5,0 L0.5,1" transform="translate(282.30,625.30) scale(9.563,12.575)" fill="none" stroke="#c8242b" stroke-width="1.60" vector-effect="non-scaling-stroke" stroke-linejoin="miter" stroke-linecap="butt"/>
<path d="M0,1 L0.5,0 L1,1 M0.2,0.64 L0.8,0.64" transform="translate(281.93,639.10) scale(10.312,1.984)" fill="none" stroke="#3aa648" stroke-width="0.85" vector-effect="non-scaling-stroke" stroke-linejoin="miter" stroke-linecap="butt"/>
<path d="M0.97,0.25 C0.88,0.08 0.72,0 0.52,0 C0.2,0 0.02,0.22 0.02,0.5 C0.02,0.78 0.2,1 0.52,1 C0.76,1 0.97,0.87 0.97,0.62 L0.97,0.55 L0.58,0.55" transform="translate(281.78,641.79) scale(10.596,1.323)" fill="none" stroke="#f2b33d" stroke-width="0.57" vector-effect="non-scaling-stroke" stroke-linejoin="miter" stroke-linecap="butt"/>
<path d="M0.98,0.27 C0.89,0.08 0.72,0 0.52,0 C0.2,0 0.02,0.22 0.02,0.5 C0.02,0.78 0.2,1 0.52,1 C0.72,1 0.89,0.92 0.98,0.73" transform="translate(294.06,625.30) scale(9.563,12.575)" fill="none" stroke="#2a3593" stroke-width="1.60" vector-effect="non-scaling-stroke" stroke-linejoin="miter" stroke-linecap="butt"/>
<path d="M0.97,0.25 C0.88,0.08 0.72,0 0.52,0 C0.2,0 0.02,0.22 0.02,0.5 C0.02,0.78 0.2,1 0.52,1 C0.76,1 0.97,0.87 0.97,0.62 L0.97,0.55 L0.58,0.55" transform="translate(293.69,639.10) scale(10.312,1.984)" fill="none" stroke="#f2b33d" stroke-width="0.85" vector-effect="non-scaling-stroke" stroke-linejoin="miter" stroke-linecap="butt"/>
<path d="M0,0 L1,0 M0.5,0 L0.5,1" transform="translate(293.55,641.79) scale(10.596,1.323)" fill="none" stroke="#c8242b" stroke-width="0.57" vector-effect="non-scaling-stroke" stroke-linejoin="miter" stroke-linecap="butt"/>
<path d="M0,0 L1,0 M0.5,0 L0.5,1" transform="translate(305.82,625.30) scale(9.563,17.300)" fill="none" stroke="#c8242b" stroke-width="1.60" vector-effect="non-scaling-stroke" stroke-linejoin="miter" stroke-linecap="butt"/>
<path d="M0,0 L1,0 M0.5,0 L0.5,1" transform="translate(317.59,625.30) scale(9.563,17.300)" fill="none" stroke="#c8242b" stroke-width="1.60" vector-effect="non-scaling-stroke" stroke-linejoin="miter" stroke-linecap="butt"/>
<path d="M0.97,0.25 C0.88,0.08 0.72,0 0.52,0 C0.2,0 0.02,0.22 0.02,0.5 C0.02,0.78 0.2,1 0.52,1 C0.76,1 0.97,0.87 0.97,0.62 L0.97,0.55 L0.58,0.55" transform="translate(329.35,625.30) scale(9.563,17.300)" fill="none" stroke="#f2b33d" stroke-width="1.60" vector-effect="non-scaling-stroke" stroke-linejoin="miter" stroke-linecap="butt"/>
<path d="M0.97,0.25 C0.88,0.08 0.72,0 0.52,0 C0.2,0 0.02,0.22 0.02,0.5 C0.02,0.78 0.2,1 0.52,1 C0.76,1 0.97,0.87 0.97,0.62 L0.97,0.55 L0.58,0.55" transform="translate(341.11,625.30) scale(9.563,17.300)" fill="none" stroke="#f2b33d" stroke-width="1.60" vector-effect="non-scaling-stroke" stroke-linejoin="miter" stroke-linecap="butt"/>
<path d="M0.98,0.27 C0.89,0.08 0.72,0 0.52,0 C0.2,0 0.02,0.22 0.02,0.5 C0.02,0.78 0.2,1 0.52,1 C0.72,1 0.89,0.92 0.98,0.73" transform="translate(352.87,625.30) scale(9.563,17.300)" fill="none" stroke="#2a3593" stroke-width="1.60" vector-effect="non-scaling-stroke" stroke-linejoin="miter" stroke-linecap="butt"/>
<path d="M0,1 L0.5,0 L1,1 M0.2,0.64 L0.8,0.64" transform="translate(364.64,625.30) scale(9.563,16.355)" fill="none" stroke="#3aa648" stroke-width="1.60" vector-effect="non-scaling-stroke" stroke-linejoin="miter" stroke-linecap="butt"/>
<path d="M0.98,0.27 C0.89,0.08 0.72,0 0.52,0 C0.2,0 0.02,0.22 0.02,0.5 C0.02,0.78 0.2,1 0.52,1 C0.72,1 0.89,0.92 0.98,0.73" transform="translate(363.98,642.60) scale(10.879,0.661)" fill="none" stroke="#2a3593" stroke-width="0.28" vector-effect="non-scaling-stroke" stroke-linejoin="miter" stroke-linecap="butt"/>
<path d="M0,1 L0.5,0 L1,1 M0.2,0.64 L0.8,0.64" transform="translate(282.30,648.00) scale(7.400,8.300)" fill="none" stroke="#3aa648" stroke-width="1.60" vector-effect="non-scaling-stroke" stroke-linejoin="miter" stroke-linecap="butt"/>
<path d="M0.97,0.25 C0.88,0.08 0.72,0 0.52,0 C0.2,0 0.02,0.22 0.02,0.5 C0.02,0.78 0.2,1 0.52,1 C0.76,1 0.97,0.87 0.97,0.62 L0.97,0.55 L0.58,0.55" transform="translate(282.30,657.90) scale(7.400,6.500)" fill="none" stroke="#f2b33d" stroke-width="1.60" vector-effect="non-scaling-stroke" stroke-linejoin="miter" stroke-linecap="butt"/>
<path d="M0.98,0.27 C0.89,0.08 0.72,0 0.52,0 C0.2,0 0.02,0.22 0.02,0.5 C0.02,0.78 0.2,1 0.52,1 C0.72,1 0.89,0.92 0.98,0.73" transform="translate(291.90,648.00) scale(8.400,8.300)" fill="none" stroke="#2a3593" stroke-width="1.60" vector-effect="non-scaling-stroke" stroke-linejoin="miter" stroke-linecap="butt"/>
<path d="M0,1 L0.5,0 L1,1 M0.2,0.64 L0.8,0.64" transform="translate(291.90,657.90) scale(8.400,6.500)" fill="none" stroke="#3aa648" stroke-width="1.60" vector-effect="non-scaling-stroke" stroke-linejoin="miter" stroke-linecap="butt"/>
<path d="M0,1 L0.5,0 L1,1 M0.2,0.64 L0.8,0.64" transform="translate(302.50,648.00) scale(9.400,16.400)" fill="none" stroke="#3aa648" stroke-width="1.60" vector-effect="non-scaling-stroke" stroke-linejoin="miter" stroke-linecap="butt"/>
<path d="M0,0 L1,0 M0.5,0 L0.5,1" transform="translate(314.10,648.00) scale(8.400,16.400)" fill="none" stroke="#c8242b" stroke-width="1.60" vector-effect="non-scaling-stroke" stroke-linejoin="miter" stroke-linecap="butt"/>
<path d="M0,0 L1,0 M0.5,0 L0.5,1" transform="translate(324.70,648.00) scale(8.400,16.400)" fill="none" stroke="#c8242b" stroke-width="1.60" vector-effect="non-scaling-stroke" stroke-linejoin="miter" stroke-linecap="butt"/>
<path d="M0.98,0.27 C0.89,0.08 0.72,0 0.52,0 C0.2,0 0.02,0.22 0.02,0.5 C0.02,0.78 0.2,1 0.52,1 C0.72,1 0.89,0.92 0.98,0.73" transform="translate(335.30,648.00) scale(9.400,16.400)" fill="none" stroke="#2a3593" stroke-width="1.60" vector-effect="non-scaling-stroke" stroke-linejoin="miter" stroke-linecap="butt"/>
<path d="M0.98,0.27 C0.89,0.08 0.72,0 0.52,0 C0.2,0 0.02,0.22 0.02,0.5 C0.02,0.78 0.2,1 0.52,1 C0.72,1 0.89,0.92 0.98,0.73" transform="translate(346.90,648.00) scale(9.400,11.900)" fill="none" stroke="#2a3593" stroke-width="1.60" vector-effect="non-scaling-stroke" stroke-linejoin="miter" stroke-linecap="butt"/>
<path d="M0,1 L0.5,0 L1,1 M0.2,0.64 L0.8,0.64" transform="translate(346.78,661.38) scale(9.650,3.150)" fill="none" stroke="#3aa648" stroke-width="1.35" vector-effect="non-scaling-stroke" stroke-linejoin="miter" stroke-linecap="butt"/>
<path d="M0,0 L1,0 M0.5,0 L0.5,1" transform="translate(358.50,648.00) scale(9.400,11.900)" fill="none" stroke="#c8242b" stroke-width="1.60" vector-effect="non-scaling-stroke" stroke-linejoin="miter" stroke-linecap="butt"/>
<path d="M0,1 L0.5,0 L1,1 M0.2,0.64 L0.8,0.64" transform="translate(358.38,661.38) scale(9.650,3.150)" fill="none" stroke="#3aa648" stroke-width="1.35" vector-effect="non-scaling-stroke" stroke-linejoin="miter" stroke-linecap="butt"/>
<text x="157.3" y="599.5" font-size="9.66" text-anchor="middle" textLength="10" lengthAdjust="spacingAndGlyphs" fill="#231f20" stroke="#231f20" stroke-width="0.30">TF</text>
<text x="183" y="599.5" font-size="9.66" textLength="31.2" lengthAdjust="spacingAndGlyphs" fill="#231f20" stroke="#231f20" stroke-width="0.30"><tspan font-style="italic">P</tspan> value</text>
<text x="243" y="599.5" font-size="9.66" text-anchor="middle" textLength="18.5" lengthAdjust="spacingAndGlyphs" fill="#231f20" stroke="#231f20" stroke-width="0.30">Sites</text>
<text x="156.8" y="607.6" font-size="9.66" text-anchor="middle" textLength="20" lengthAdjust="spacingAndGlyphs" fill="#231f20" stroke="#231f20" stroke-width="0.30">AP-1/</text>
<text x="157.4" y="619.2" font-size="9.66" text-anchor="middle" textLength="25.8" lengthAdjust="spacingAndGlyphs" fill="#231f20" stroke="#231f20" stroke-width="0.30">HIF-1β</text>
<text x="181.8" y="613.4" font-size="9.66" textLength="17.4" lengthAdjust="spacingAndGlyphs" fill="#231f20" stroke="#231f20" stroke-width="0.30">1×10</text>
<text x="199.2" y="609.3" font-size="5.46" textLength="16" lengthAdjust="spacingAndGlyphs" fill="#231f20" stroke="#231f20" stroke-width="0.18">–4332</text>
<text x="243" y="613.4" font-size="9.66" text-anchor="middle" textLength="17" lengthAdjust="spacingAndGlyphs" fill="#231f20" stroke="#231f20" stroke-width="0.30">58%</text>
<text x="156.2" y="635" font-size="9.66" text-anchor="middle" textLength="22.5" lengthAdjust="spacingAndGlyphs" fill="#231f20" stroke="#231f20" stroke-width="0.30">TEAD</text>
<text x="183.7" y="635" font-size="9.66" textLength="17.4" lengthAdjust="spacingAndGlyphs" fill="#231f20" stroke="#231f20" stroke-width="0.30">1×10</text>
<text x="201.1" y="630.9" font-size="5.46" textLength="13" lengthAdjust="spacingAndGlyphs" fill="#231f20" stroke="#231f20" stroke-width="0.18">–218</text>
<text x="243" y="635" font-size="9.66" text-anchor="middle" textLength="17" lengthAdjust="spacingAndGlyphs" fill="#231f20" stroke="#231f20" stroke-width="0.30">17%</text>
<text x="156.9" y="657.5" font-size="9.66" text-anchor="middle" textLength="18.8" lengthAdjust="spacingAndGlyphs" fill="#231f20" stroke="#231f20" stroke-width="0.30">NFIC</text>
<text x="183.7" y="657.5" font-size="9.66" textLength="17.4" lengthAdjust="spacingAndGlyphs" fill="#231f20" stroke="#231f20" stroke-width="0.30">1×10</text>
<text x="201.1" y="653.4" font-size="5.46" textLength="13" lengthAdjust="spacingAndGlyphs" fill="#231f20" stroke="#231f20" stroke-width="0.18">–216</text>
<text x="243" y="657.5" font-size="9.66" text-anchor="middle" textLength="17" lengthAdjust="spacingAndGlyphs" fill="#231f20" stroke="#231f20" stroke-width="0.30">27%</text>
<text x="401.6" y="599.5" font-size="9.66" text-anchor="middle" textLength="9.3" lengthAdjust="spacingAndGlyphs" fill="#231f20" stroke="#231f20" stroke-width="0.30">TF</text>
<text x="427.5" y="599.5" font-size="9.66" textLength="31.2" lengthAdjust="spacingAndGlyphs" fill="#231f20" stroke="#231f20" stroke-width="0.30"><tspan font-style="italic">P</tspan> value</text>
<text x="487.5" y="599.5" font-size="9.66" text-anchor="middle" textLength="20" lengthAdjust="spacingAndGlyphs" fill="#231f20" stroke="#231f20" stroke-width="0.30">Sites</text>
<text x="401.9" y="613.7" font-size="9.66" text-anchor="middle" textLength="18.7" lengthAdjust="spacingAndGlyphs" fill="#231f20" stroke="#231f20" stroke-width="0.30">AP-1</text>
<text x="427.5" y="613.7" font-size="9.66" textLength="17.4" lengthAdjust="spacingAndGlyphs" fill="#231f20" stroke="#231f20" stroke-width="0.30">1×10</text>
<text x="444.9" y="609.6" font-size="5.46" textLength="20" lengthAdjust="spacingAndGlyphs" fill="#231f20" stroke="#231f20" stroke-width="0.18">–3,674</text>
<text x="488.5" y="613.7" font-size="9.66" text-anchor="middle" textLength="18" lengthAdjust="spacingAndGlyphs" fill="#231f20" stroke="#231f20" stroke-width="0.30">47%</text>
<text x="402.2" y="635" font-size="9.66" text-anchor="middle" textLength="15.5" lengthAdjust="spacingAndGlyphs" fill="#231f20" stroke="#231f20" stroke-width="0.30">NF1</text>
<text x="428.7" y="635" font-size="9.66" textLength="17.4" lengthAdjust="spacingAndGlyphs" fill="#231f20" stroke="#231f20" stroke-width="0.30">1×10</text>
<text x="446.1" y="630.9" font-size="5.46" textLength="13" lengthAdjust="spacingAndGlyphs" fill="#231f20" stroke="#231f20" stroke-width="0.18">–280</text>
<text x="488.5" y="635" font-size="9.66" text-anchor="middle" textLength="18" lengthAdjust="spacingAndGlyphs" fill="#231f20" stroke="#231f20" stroke-width="0.30">29%</text>
<text x="402.1" y="657.5" font-size="9.66" text-anchor="middle" textLength="21.7" lengthAdjust="spacingAndGlyphs" fill="#231f20" stroke="#231f20" stroke-width="0.30">TEAD</text>
<text x="428.7" y="657.5" font-size="9.66" textLength="17.4" lengthAdjust="spacingAndGlyphs" fill="#231f20" stroke="#231f20" stroke-width="0.30">1×10</text>
<text x="446.1" y="653.4" font-size="5.46" textLength="13" lengthAdjust="spacingAndGlyphs" fill="#231f20" stroke="#231f20" stroke-width="0.18">–271</text>
<text x="488.5" y="657.5" font-size="9.66" text-anchor="middle" textLength="18" lengthAdjust="spacingAndGlyphs" fill="#231f20" stroke="#231f20" stroke-width="0.30">21%</text>
</svg>
</body></html>
